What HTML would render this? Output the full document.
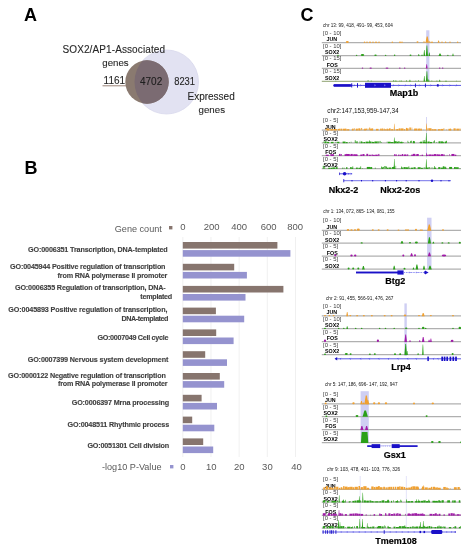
<!DOCTYPE html>
<html><head><meta charset="utf-8"><style>
html,body{margin:0;padding:0;background:#fff;width:470px;height:550px;overflow:hidden}
svg{display:block;filter:blur(0.45px)}
text{font-family:'Liberation Sans', Arial, sans-serif}
.lbl{font-size:18px;font-weight:bold;fill:#000}
.va{font-size:10px;fill:#262626;stroke:#262626;stroke-width:0.1px}
.ax{font-size:9.1px;fill:#595959}
.dg{font-size:9.5px}
.go{font-size:7.2px;font-weight:bold;fill:#404040;stroke:#404040;stroke-width:0.12px}
.hd{fill:#111}
.rg{font-size:5.9px;fill:#3c3c3c}
.tn{font-size:5.3px;font-weight:bold;fill:#000}
.gn{font-size:9px;font-weight:bold;fill:#000;stroke:#000;stroke-width:0.18px}
</style></head><body>
<svg width="470" height="550" viewBox="0 0 470 550">
<rect width="470" height="550" fill="#fff"/>
<text x="24" y="21" class="lbl">A</text>
<circle cx="166.5" cy="82" r="32" fill="#e2e2f2" stroke="#d8d8ec" stroke-width="0.8"/>
<circle cx="147" cy="82" r="21.7" fill="#8a7a70"/>
<clipPath id="cpL"><circle cx="166.5" cy="82" r="32"/></clipPath>
<circle cx="147" cy="82" r="21.7" fill="#7b6b72" clip-path="url(#cpL)"/>
<line x1="102.5" y1="85.8" x2="126" y2="85.8" stroke="#9a8378" stroke-width="1"/>
<text x="62.5" y="52.6" class="va" textLength="102.5" lengthAdjust="spacing">SOX2/AP1-Associated</text>
<text x="102.3" y="65.6" class="va" style="font-size:9.7px">genes</text>
<text x="103.6" y="84.3" class="va" style="font-size:10px">1161</text>
<text x="140.0" y="84.6" class="va" style="font-size:10px;fill:#1a1a1a">4702</text>
<text x="174.2" y="85.4" class="va" style="font-size:10px" textLength="20.8" lengthAdjust="spacingAndGlyphs">8231</text>
<text x="187.5" y="99.6" class="va">Expressed</text>
<text x="198.6" y="112.7" class="va" style="font-size:9.7px">genes</text>
<text x="24.4" y="173.9" class="lbl">B</text>
<line x1="210.97" y1="237" x2="210.97" y2="457" stroke="#ececec" stroke-width="0.8"/>
<line x1="239.15" y1="237" x2="239.15" y2="457" stroke="#ececec" stroke-width="0.8"/>
<line x1="267.32" y1="237" x2="267.32" y2="457" stroke="#ececec" stroke-width="0.8"/>
<line x1="295.50" y1="237" x2="295.50" y2="457" stroke="#ececec" stroke-width="0.8"/>
<line x1="182.8" y1="237" x2="182.8" y2="457" stroke="#ececec" stroke-width="0.8"/>
<text x="161.8" y="231.5" class="ax" text-anchor="end">Gene count</text>
<rect x="169.0" y="226.0" width="3.4" height="3.4" fill="#87756e"/>
<text x="182.9" y="230.0" class="ax dg" text-anchor="middle">0</text>
<text x="211.6" y="230.0" class="ax dg" text-anchor="middle">200</text>
<text x="239.2" y="230.0" class="ax dg" text-anchor="middle">400</text>
<text x="268.6" y="230.0" class="ax dg" text-anchor="middle">600</text>
<text x="295.1" y="230.0" class="ax dg" text-anchor="middle">800</text>
<text x="161.5" y="469.6" class="ax" text-anchor="end">-log10 P-Value</text>
<rect x="170" y="465" width="3.4" height="3.4" fill="#9593cf"/>
<text x="182.9" y="469.6" class="ax dg" text-anchor="middle">0</text>
<text x="211.3" y="469.6" class="ax dg" text-anchor="middle">10</text>
<text x="239.3" y="469.6" class="ax dg" text-anchor="middle">20</text>
<text x="267.4" y="469.6" class="ax dg" text-anchor="middle">30</text>
<text x="296.5" y="469.6" class="ax dg" text-anchor="middle">40</text>
<rect x="182.8" y="242.00" width="94.60" height="6.6" fill="#87756e"/>
<rect x="182.8" y="250.10" width="107.60" height="6.6" fill="#9593cf"/>
<rect x="182.8" y="263.80" width="51.40" height="6.6" fill="#87756e"/>
<rect x="182.8" y="271.90" width="64.10" height="6.6" fill="#9593cf"/>
<rect x="182.8" y="285.90" width="100.60" height="6.6" fill="#87756e"/>
<rect x="182.8" y="294.00" width="62.70" height="6.6" fill="#9593cf"/>
<rect x="182.8" y="307.60" width="33.10" height="6.6" fill="#87756e"/>
<rect x="182.8" y="315.70" width="61.40" height="6.6" fill="#9593cf"/>
<rect x="182.8" y="329.40" width="33.40" height="6.6" fill="#87756e"/>
<rect x="182.8" y="337.50" width="50.80" height="6.6" fill="#9593cf"/>
<rect x="182.8" y="351.20" width="22.40" height="6.6" fill="#87756e"/>
<rect x="182.8" y="359.30" width="44.20" height="6.6" fill="#9593cf"/>
<rect x="182.8" y="373.00" width="37.00" height="6.6" fill="#87756e"/>
<rect x="182.8" y="381.10" width="41.40" height="6.6" fill="#9593cf"/>
<rect x="182.8" y="394.80" width="18.80" height="6.6" fill="#87756e"/>
<rect x="182.8" y="402.90" width="34.20" height="6.6" fill="#9593cf"/>
<rect x="182.8" y="416.60" width="9.40" height="6.6" fill="#87756e"/>
<rect x="182.8" y="424.70" width="31.50" height="6.6" fill="#9593cf"/>
<rect x="182.8" y="438.40" width="20.40" height="6.6" fill="#87756e"/>
<rect x="182.8" y="446.50" width="30.40" height="6.6" fill="#9593cf"/>
<text x="28.10" y="252.10" class="go" textLength="139.60" lengthAdjust="spacing">GO:0006351 Transcription, DNA-templated</text>
<text x="10.10" y="269.20" class="go" textLength="155.40" lengthAdjust="spacing">GO:0045944 Positive regulation of transcription</text>
<text x="57.60" y="277.80" class="go" textLength="109.80" lengthAdjust="spacing">from RNA polymerase II promoter</text>
<text x="15.00" y="290.40" class="go" textLength="150.70" lengthAdjust="spacing">GO:0006355 Regulation of transcription, DNA-</text>
<text x="140.30" y="298.90" class="go" textLength="31.90" lengthAdjust="spacing">templated</text>
<text x="8.30" y="312.10" class="go" textLength="159.10" lengthAdjust="spacing">GO:0045893 Positive regulation of transcription,</text>
<text x="121.50" y="320.50" class="go" textLength="46.90" lengthAdjust="spacing">DNA-templated</text>
<text x="97.40" y="339.70" class="go" textLength="71.00" lengthAdjust="spacing">GO:0007049 Cell cycle</text>
<text x="27.70" y="361.50" class="go" textLength="140.70" lengthAdjust="spacing">GO:0007399 Nervous system development</text>
<text x="8.10" y="377.50" class="go" textLength="157.70" lengthAdjust="spacing">GO:0000122 Negative regulation of transcription</text>
<text x="57.90" y="386.00" class="go" textLength="109.70" lengthAdjust="spacing">from RNA polymerase II promoter</text>
<text x="71.70" y="404.70" class="go" textLength="97.50" lengthAdjust="spacing">GO:0006397 Mrna processing</text>
<text x="67.50" y="426.50" class="go" textLength="101.70" lengthAdjust="spacing">GO:0048511 Rhythmic process</text>
<text x="87.40" y="448.00" class="go" textLength="81.80" lengthAdjust="spacing">GO:0051301 Cell division</text>
<text x="300.6" y="21" class="lbl">C</text>
<text x="323" y="26.57" class="hd" style="font-size:4.65px" textLength="69.8" lengthAdjust="spacingAndGlyphs">chr 13: 99, 418, 491- 99, 453, 604</text><rect x="426.2" y="30.3" width="3.1999999999999886" height="51.7" fill="#b8b8ee" opacity="0.68"/><line x1="321.8" y1="42.5" x2="461.0" y2="42.5" stroke="#b0b0b0" stroke-width="1.25"/><text x="323" y="34.50" class="rg">[0 - 10]</text><text x="326.6" y="41.00" class="tn">JUN</text><ellipse cx="347.30" cy="41.95" rx="1.50" ry="0.95" fill="#f0a030"/><ellipse cx="364.50" cy="42.25" rx="0.75" ry="0.65" fill="#f0a030"/><ellipse cx="367.00" cy="42.25" rx="0.75" ry="0.65" fill="#f0a030"/><ellipse cx="370.00" cy="42.20" rx="1.00" ry="0.70" fill="#f0a030"/><ellipse cx="373.00" cy="42.25" rx="0.75" ry="0.65" fill="#f0a030"/><ellipse cx="376.00" cy="42.20" rx="1.00" ry="0.70" fill="#f0a030"/><ellipse cx="379.00" cy="42.25" rx="0.75" ry="0.65" fill="#f0a030"/><ellipse cx="392.30" cy="42.25" rx="0.75" ry="0.65" fill="#f0a030"/><ellipse cx="400.00" cy="42.20" rx="1.00" ry="0.70" fill="#f0a030"/><ellipse cx="402.00" cy="42.25" rx="0.75" ry="0.65" fill="#f0a030"/><ellipse cx="417.50" cy="42.10" rx="1.00" ry="0.80" fill="#f0a030"/><path d="M423.25,42.80 L423.79,41.10 L424.21,41.10 L424.75,42.80Z" fill="#f0a030"/><path d="M425.45,42.80 L426.70,36.50 L427.70,36.50 L428.95,42.80Z" fill="#f0a030"/><path d="M429.05,42.80 L429.59,41.00 L430.01,41.00 L430.55,42.80Z" fill="#f0a030"/><ellipse cx="432.00" cy="42.20" rx="1.00" ry="0.70" fill="#f0a030"/><path d="M437.60,42.80 L438.31,40.50 L438.89,40.50 L439.60,42.80Z" fill="#f0a030"/><ellipse cx="442.00" cy="42.20" rx="0.75" ry="0.70" fill="#f0a030"/><ellipse cx="445.60" cy="42.25" rx="0.75" ry="0.65" fill="#f0a030"/><ellipse cx="450.00" cy="42.20" rx="0.75" ry="0.70" fill="#f0a030"/><ellipse cx="457.60" cy="42.20" rx="0.75" ry="0.70" fill="#f0a030"/><line x1="321.8" y1="55.6" x2="461.0" y2="55.6" stroke="#b0b0b0" stroke-width="1.25"/><text x="323" y="47.60" class="rg">[0 - 10]</text><text x="325.0" y="54.10" class="tn">SOX2</text><ellipse cx="338.00" cy="55.40" rx="0.75" ry="0.60" fill="#2aa018"/><ellipse cx="356.60" cy="55.35" rx="0.75" ry="0.65" fill="#2aa018"/><ellipse cx="362.50" cy="55.00" rx="1.75" ry="1.00" fill="#2aa018"/><ellipse cx="375.50" cy="55.30" rx="1.25" ry="0.70" fill="#2aa018"/><ellipse cx="385.60" cy="55.35" rx="0.75" ry="0.65" fill="#2aa018"/><ellipse cx="394.60" cy="55.30" rx="0.75" ry="0.70" fill="#2aa018"/><ellipse cx="410.50" cy="55.30" rx="1.00" ry="0.70" fill="#2aa018"/><path d="M418.05,55.90 L418.59,54.10 L419.01,54.10 L419.55,55.90Z" fill="#2aa018"/><path d="M421.25,55.90 L421.79,54.40 L422.21,54.40 L422.75,55.90Z" fill="#2aa018"/><path d="M423.50,55.90 L424.07,50.10 L424.53,50.10 L425.10,55.90Z" fill="#2aa018"/><path d="M425.80,55.90 L426.59,45.60 L427.21,45.60 L428.00,55.90Z" fill="#2aa018"/><path d="M428.50,55.90 L429.07,52.60 L429.53,52.60 L430.10,55.90Z" fill="#2aa018"/><path d="M438.50,55.90 L439.57,53.60 L440.43,53.60 L441.50,55.90Z" fill="#2aa018"/><ellipse cx="447.90" cy="55.35" rx="0.75" ry="0.65" fill="#2aa018"/><path d="M452.25,55.90 L452.79,53.60 L453.21,53.60 L453.75,55.90Z" fill="#2aa018"/><line x1="321.8" y1="68.3" x2="461.0" y2="68.3" stroke="#b0b0b0" stroke-width="1.25"/><text x="323" y="60.30" class="rg">[0 - 15]</text><text x="326.8" y="66.80" class="tn">FOS</text><ellipse cx="362.50" cy="68.10" rx="0.75" ry="0.60" fill="#a01aa8"/><ellipse cx="370.70" cy="68.05" rx="1.25" ry="0.65" fill="#a01aa8"/><ellipse cx="387.00" cy="68.05" rx="1.50" ry="0.65" fill="#a01aa8"/><ellipse cx="399.80" cy="68.10" rx="0.75" ry="0.60" fill="#a01aa8"/><ellipse cx="404.70" cy="68.10" rx="0.75" ry="0.60" fill="#a01aa8"/><path d="M425.80,68.60 L426.44,64.30 L426.96,64.30 L427.60,68.60Z" fill="#a01aa8"/><ellipse cx="439.70" cy="68.10" rx="0.75" ry="0.60" fill="#a01aa8"/><ellipse cx="442.70" cy="68.10" rx="0.75" ry="0.60" fill="#a01aa8"/><line x1="321.8" y1="81.3" x2="461.0" y2="81.3" stroke="#a4b48c" stroke-width="1.25"/><text x="323" y="73.30" class="rg">[0 - 15]</text><text x="325.0" y="79.80" class="tn">SOX2</text><rect x="335.60" y="80.63" width="0.57" height="0.67" fill="#2aa018"/><rect x="367.60" y="80.32" width="0.98" height="0.98" fill="#2aa018"/><rect x="370.80" y="80.68" width="0.90" height="0.62" fill="#2aa018"/><rect x="393.20" y="80.33" width="0.78" height="0.97" fill="#2aa018"/><rect x="394.80" y="80.53" width="0.67" height="0.77" fill="#2aa018"/><rect x="395.60" y="80.70" width="1.00" height="0.60" fill="#2aa018"/><rect x="399.60" y="80.50" width="0.68" height="0.80" fill="#2aa018"/><rect x="401.20" y="80.60" width="0.75" height="0.70" fill="#2aa018"/><rect x="406.00" y="80.47" width="0.96" height="0.83" fill="#2aa018"/><rect x="415.60" y="80.56" width="0.54" height="0.74" fill="#2aa018"/><rect x="418.00" y="80.16" width="0.60" height="1.14" fill="#2aa018"/><rect x="428.40" y="80.69" width="0.68" height="0.61" fill="#2aa018"/><rect x="431.60" y="80.44" width="0.56" height="0.86" fill="#2aa018"/><rect x="436.40" y="80.64" width="0.93" height="0.66" fill="#2aa018"/><rect x="456.40" y="80.70" width="0.52" height="0.60" fill="#2aa018"/><path d="M409.15,81.60 L409.69,79.80 L410.11,79.80 L410.65,81.60Z" fill="#2aa018"/><path d="M423.60,81.60 L424.10,76.00 L424.50,76.00 L425.00,81.60Z" fill="#2aa018"/><path d="M425.90,81.60 L426.61,71.30 L427.19,71.30 L427.90,81.60Z" fill="#2aa018"/><path d="M428.20,81.60 L428.63,79.30 L428.97,79.30 L429.40,81.60Z" fill="#2aa018"/><path d="M438.95,81.60 L439.49,79.80 L439.91,79.80 L440.45,81.60Z" fill="#2aa018"/><path d="M445.25,81.60 L445.79,80.40 L446.21,80.40 L446.75,81.60Z" fill="#2aa018"/><line x1="333" y1="85.4" x2="461" y2="85.4" stroke="#3a36e0" stroke-width="0.85"/><rect x="333.70" y="84.10" width="17.20" height="2.70" fill="#1a10c8"/><rect x="351.15" y="83.40" width="1.10" height="4.00" fill="#1a10c8"/><rect x="357.00" y="83.20" width="1.00" height="4.40" fill="#1a10c8"/><path d="M353.96,84.50 L354.86,85.40 L353.96,86.30" stroke="#3a36e0" stroke-width="0.55" fill="none"/><path d="M360.46,84.50 L361.36,85.40 L360.46,86.30" stroke="#3a36e0" stroke-width="0.55" fill="none"/><rect x="365.00" y="82.80" width="26.00" height="5.00" fill="#1a10c8"/><path d="M374.3,84.8 L375.5,85.3 L374.3,85.8" stroke="#9a9af0" stroke-width="0.6" fill="none"/><path d="M384.1,84.8 L385.3,85.3 L384.1,85.8" stroke="#9a9af0" stroke-width="0.6" fill="none"/><path d="M393.06,84.50 L393.96,85.40 L393.06,86.30" stroke="#3a36e0" stroke-width="0.55" fill="none"/><path d="M398.66,84.50 L399.56,85.40 L398.66,86.30" stroke="#3a36e0" stroke-width="0.55" fill="none"/><path d="M405.06,84.50 L405.96,85.40 L405.06,86.30" stroke="#3a36e0" stroke-width="0.55" fill="none"/><path d="M410.56,84.50 L411.46,85.40 L410.56,86.30" stroke="#3a36e0" stroke-width="0.55" fill="none"/><path d="M419.36,84.50 L420.26,85.40 L419.36,86.30" stroke="#3a36e0" stroke-width="0.55" fill="none"/><path d="M430.56,84.50 L431.46,85.40 L430.56,86.30" stroke="#3a36e0" stroke-width="0.55" fill="none"/><path d="M442.46,84.50 L443.36,85.40 L442.46,86.30" stroke="#3a36e0" stroke-width="0.55" fill="none"/><path d="M449.66,84.50 L450.56,85.40 L449.66,86.30" stroke="#3a36e0" stroke-width="0.55" fill="none"/><path d="M456.06,84.50 L456.96,85.40 L456.06,86.30" stroke="#3a36e0" stroke-width="0.55" fill="none"/><rect x="414.95" y="83.50" width="0.90" height="3.80" fill="#1a10c8"/><rect x="424.95" y="83.50" width="0.90" height="3.80" fill="#1a10c8"/><rect x="436.90" y="84.20" width="1.80" height="2.40" fill="#1a10c8"/><text x="389.8" y="96.2" class="gn">Map1b</text>
<clipPath id="hc2"><rect x="300" y="0" width="98.30000000000001" height="550"/></clipPath><text x="327.3" y="113.30" class="hd" style="font-size:6.4px" clip-path="url(#hc2)">chr2:147,153,959-147,34</text><rect x="426.0" y="117" width="0.8000000000000114" height="40.5" fill="#b8b8ee" opacity="0.72"/><line x1="321.8" y1="130.2" x2="461.0" y2="130.2" stroke="#b0b0b0" stroke-width="1.25"/><text x="323" y="122.20" class="rg">[0 - 5]</text><text x="325.1" y="128.70" class="tn">JUN</text><rect x="326.48" y="128.65" width="3.09" height="1.85" fill="#f0a030"/><rect x="330.27" y="129.17" width="3.02" height="1.33" fill="#f0a030"/><rect x="333.61" y="129.00" width="3.29" height="1.50" fill="#f0a030"/><rect x="337.62" y="129.01" width="2.09" height="1.49" fill="#f0a030"/><rect x="340.41" y="128.66" width="1.84" height="1.84" fill="#f0a030"/><rect x="342.87" y="128.72" width="2.18" height="1.78" fill="#f0a030"/><rect x="345.08" y="128.58" width="1.31" height="1.92" fill="#f0a030"/><rect x="346.61" y="129.23" width="2.62" height="1.27" fill="#f0a030"/><rect x="352.06" y="128.64" width="1.62" height="1.86" fill="#f0a030"/><rect x="355.78" y="128.64" width="2.08" height="1.86" fill="#f0a030"/><rect x="358.29" y="128.32" width="2.05" height="2.18" fill="#f0a030"/><rect x="364.08" y="128.68" width="1.86" height="1.82" fill="#f0a030"/><rect x="370.39" y="128.54" width="2.53" height="1.96" fill="#f0a030"/><rect x="375.97" y="128.85" width="2.57" height="1.65" fill="#f0a030"/><rect x="380.13" y="128.62" width="1.67" height="1.88" fill="#f0a030"/><rect x="382.03" y="129.11" width="1.20" height="1.39" fill="#f0a030"/><rect x="383.61" y="128.61" width="1.13" height="1.89" fill="#f0a030"/><rect x="385.15" y="129.22" width="1.40" height="1.28" fill="#f0a030"/><rect x="386.75" y="129.14" width="1.95" height="1.36" fill="#f0a030"/><rect x="388.88" y="128.37" width="1.76" height="2.13" fill="#f0a030"/><rect x="391.14" y="129.15" width="2.09" height="1.35" fill="#f0a030"/><rect x="396.41" y="129.03" width="1.75" height="1.47" fill="#f0a030"/><rect x="398.68" y="128.38" width="1.32" height="2.12" fill="#f0a030"/><rect x="400.29" y="128.42" width="3.23" height="2.08" fill="#f0a030"/><rect x="403.88" y="129.12" width="1.32" height="1.38" fill="#f0a030"/><rect x="405.90" y="128.33" width="2.64" height="2.17" fill="#f0a030"/><rect x="414.16" y="128.52" width="3.26" height="1.98" fill="#f0a030"/><rect x="417.89" y="128.71" width="1.99" height="1.79" fill="#f0a030"/><rect x="420.16" y="128.63" width="1.72" height="1.87" fill="#f0a030"/><rect x="428.72" y="128.25" width="2.80" height="2.25" fill="#f0a030"/><rect x="431.78" y="129.21" width="1.55" height="1.29" fill="#f0a030"/><rect x="433.40" y="129.23" width="2.90" height="1.27" fill="#f0a030"/><rect x="437.91" y="129.20" width="2.60" height="1.30" fill="#f0a030"/><rect x="440.68" y="128.92" width="2.26" height="1.58" fill="#f0a030"/><rect x="448.41" y="128.81" width="2.78" height="1.69" fill="#f0a030"/><rect x="453.50" y="128.35" width="2.17" height="2.15" fill="#f0a030"/><rect x="456.43" y="128.64" width="2.48" height="1.86" fill="#f0a030"/><rect x="459.45" y="128.52" width="1.05" height="1.98" fill="#f0a030"/><rect x="325.20" y="129.03" width="0.65" height="1.17" fill="#f0a030"/><rect x="326.80" y="127.80" width="0.56" height="2.40" fill="#f0a030"/><rect x="330.80" y="129.43" width="1.00" height="0.77" fill="#f0a030"/><rect x="332.40" y="129.45" width="0.55" height="0.75" fill="#f0a030"/><rect x="334.00" y="129.60" width="0.52" height="0.60" fill="#f0a030"/><rect x="338.80" y="128.51" width="0.75" height="1.69" fill="#f0a030"/><rect x="344.40" y="129.52" width="0.64" height="0.68" fill="#f0a030"/><rect x="345.20" y="129.25" width="0.53" height="0.95" fill="#f0a030"/><rect x="348.40" y="129.50" width="0.95" height="0.70" fill="#f0a030"/><rect x="351.60" y="129.42" width="0.72" height="0.78" fill="#f0a030"/><rect x="354.00" y="128.15" width="0.59" height="2.05" fill="#f0a030"/><rect x="356.40" y="129.35" width="0.69" height="0.85" fill="#f0a030"/><rect x="359.60" y="129.59" width="0.80" height="0.61" fill="#f0a030"/><rect x="361.20" y="127.96" width="0.94" height="2.24" fill="#f0a030"/><rect x="362.80" y="129.52" width="0.92" height="0.68" fill="#f0a030"/><rect x="366.00" y="128.57" width="0.92" height="1.63" fill="#f0a030"/><rect x="367.60" y="128.51" width="0.78" height="1.69" fill="#f0a030"/><rect x="369.20" y="127.56" width="0.98" height="2.64" fill="#f0a030"/><rect x="370.00" y="128.93" width="0.77" height="1.27" fill="#f0a030"/><rect x="372.40" y="128.43" width="0.76" height="1.77" fill="#f0a030"/><rect x="382.00" y="127.95" width="0.51" height="2.25" fill="#f0a030"/><rect x="384.40" y="129.48" width="0.54" height="0.72" fill="#f0a030"/><rect x="386.80" y="128.34" width="0.69" height="1.86" fill="#f0a030"/><rect x="395.60" y="129.52" width="0.81" height="0.68" fill="#f0a030"/><rect x="396.40" y="129.60" width="0.68" height="0.60" fill="#f0a030"/><rect x="398.00" y="129.41" width="0.56" height="0.79" fill="#f0a030"/><rect x="406.00" y="127.88" width="0.93" height="2.32" fill="#f0a030"/><rect x="406.80" y="129.58" width="0.75" height="0.62" fill="#f0a030"/><rect x="409.20" y="127.47" width="0.67" height="2.73" fill="#f0a030"/><rect x="410.00" y="127.49" width="0.88" height="2.71" fill="#f0a030"/><rect x="411.60" y="127.55" width="0.65" height="2.65" fill="#f0a030"/><rect x="414.00" y="129.60" width="0.81" height="0.60" fill="#f0a030"/><rect x="418.80" y="128.47" width="0.72" height="1.73" fill="#f0a030"/><rect x="423.60" y="129.60" width="0.51" height="0.60" fill="#f0a030"/><rect x="427.60" y="128.13" width="0.94" height="2.07" fill="#f0a030"/><rect x="430.00" y="129.26" width="0.51" height="0.94" fill="#f0a030"/><rect x="435.60" y="129.38" width="0.55" height="0.82" fill="#f0a030"/><rect x="438.00" y="129.60" width="0.56" height="0.60" fill="#f0a030"/><rect x="442.00" y="129.46" width="0.69" height="0.74" fill="#f0a030"/><rect x="442.80" y="129.00" width="0.56" height="1.20" fill="#f0a030"/><rect x="443.60" y="128.05" width="0.63" height="2.15" fill="#f0a030"/><rect x="446.00" y="129.60" width="0.93" height="0.60" fill="#f0a030"/><rect x="449.20" y="129.55" width="0.76" height="0.65" fill="#f0a030"/><rect x="450.00" y="128.75" width="1.00" height="1.45" fill="#f0a030"/><rect x="451.60" y="129.47" width="0.52" height="0.73" fill="#f0a030"/><path d="M393.70,130.50 L394.13,123.70 L394.47,123.70 L394.90,130.50Z" fill="#f0a030"/><path d="M426.00,130.50 L426.43,123.50 L426.77,123.50 L427.20,130.50Z" fill="#f0a030"/><line x1="321.8" y1="142.9" x2="461.0" y2="142.9" stroke="#b0b0b0" stroke-width="1.25"/><text x="323" y="134.90" class="rg">[0 - 5]</text><text x="323.5" y="141.40" class="tn">SOX2</text><rect x="324.57" y="141.30" width="1.96" height="1.90" fill="#2aa018"/><rect x="327.10" y="141.87" width="2.02" height="1.33" fill="#2aa018"/><rect x="330.92" y="141.88" width="2.59" height="1.32" fill="#2aa018"/><rect x="337.14" y="141.78" width="2.23" height="1.42" fill="#2aa018"/><rect x="342.61" y="141.55" width="2.86" height="1.65" fill="#2aa018"/><rect x="345.70" y="142.08" width="1.97" height="1.12" fill="#2aa018"/><rect x="356.40" y="141.26" width="1.24" height="1.94" fill="#2aa018"/><rect x="360.92" y="141.72" width="1.73" height="1.48" fill="#2aa018"/><rect x="363.34" y="142.02" width="1.77" height="1.18" fill="#2aa018"/><rect x="365.62" y="141.61" width="2.99" height="1.59" fill="#2aa018"/><rect x="368.99" y="141.49" width="2.50" height="1.71" fill="#2aa018"/><rect x="371.88" y="141.94" width="2.25" height="1.26" fill="#2aa018"/><rect x="374.36" y="141.50" width="2.85" height="1.70" fill="#2aa018"/><rect x="377.43" y="141.27" width="1.21" height="1.93" fill="#2aa018"/><rect x="387.88" y="141.73" width="2.77" height="1.47" fill="#2aa018"/><rect x="390.82" y="142.05" width="2.75" height="1.15" fill="#2aa018"/><rect x="394.14" y="141.25" width="2.55" height="1.95" fill="#2aa018"/><rect x="396.72" y="141.68" width="1.52" height="1.52" fill="#2aa018"/><rect x="398.36" y="141.18" width="1.14" height="2.02" fill="#2aa018"/><rect x="400.18" y="141.86" width="2.49" height="1.34" fill="#2aa018"/><rect x="412.84" y="141.32" width="2.07" height="1.88" fill="#2aa018"/><rect x="420.08" y="141.70" width="2.17" height="1.50" fill="#2aa018"/><rect x="422.92" y="142.02" width="2.81" height="1.18" fill="#2aa018"/><rect x="425.80" y="141.97" width="1.05" height="1.23" fill="#2aa018"/><rect x="427.46" y="141.56" width="2.31" height="1.64" fill="#2aa018"/><rect x="429.99" y="141.95" width="1.99" height="1.25" fill="#2aa018"/><rect x="438.51" y="141.33" width="1.93" height="1.87" fill="#2aa018"/><rect x="440.56" y="141.40" width="2.42" height="1.80" fill="#2aa018"/><rect x="443.20" y="141.80" width="1.08" height="1.40" fill="#2aa018"/><rect x="444.92" y="141.55" width="1.59" height="1.65" fill="#2aa018"/><rect x="323.60" y="141.39" width="0.72" height="1.51" fill="#2aa018"/><rect x="327.60" y="141.89" width="0.62" height="1.01" fill="#2aa018"/><rect x="335.60" y="141.79" width="0.75" height="1.11" fill="#2aa018"/><rect x="349.20" y="142.08" width="0.66" height="0.82" fill="#2aa018"/><rect x="350.80" y="141.63" width="0.54" height="1.27" fill="#2aa018"/><rect x="354.80" y="140.29" width="0.85" height="2.61" fill="#2aa018"/><rect x="355.60" y="142.05" width="0.82" height="0.85" fill="#2aa018"/><rect x="361.20" y="141.28" width="0.60" height="1.62" fill="#2aa018"/><rect x="368.40" y="141.97" width="0.64" height="0.93" fill="#2aa018"/><rect x="369.20" y="140.27" width="0.52" height="2.63" fill="#2aa018"/><rect x="372.40" y="141.75" width="0.52" height="1.15" fill="#2aa018"/><rect x="375.60" y="141.65" width="0.55" height="1.25" fill="#2aa018"/><rect x="379.60" y="140.92" width="0.91" height="1.98" fill="#2aa018"/><rect x="381.20" y="142.22" width="0.70" height="0.68" fill="#2aa018"/><rect x="386.80" y="141.55" width="0.54" height="1.35" fill="#2aa018"/><rect x="390.00" y="142.29" width="0.91" height="0.61" fill="#2aa018"/><rect x="398.80" y="142.29" width="0.76" height="0.61" fill="#2aa018"/><rect x="400.40" y="142.14" width="0.53" height="0.76" fill="#2aa018"/><rect x="401.20" y="141.76" width="0.84" height="1.14" fill="#2aa018"/><rect x="402.80" y="142.28" width="0.97" height="0.62" fill="#2aa018"/><rect x="407.60" y="140.79" width="0.61" height="2.11" fill="#2aa018"/><rect x="408.40" y="142.03" width="0.77" height="0.87" fill="#2aa018"/><rect x="410.00" y="141.19" width="0.75" height="1.71" fill="#2aa018"/><rect x="410.80" y="140.71" width="0.90" height="2.19" fill="#2aa018"/><rect x="413.20" y="140.97" width="0.95" height="1.93" fill="#2aa018"/><rect x="419.60" y="142.03" width="0.81" height="0.87" fill="#2aa018"/><rect x="422.80" y="140.39" width="0.77" height="2.51" fill="#2aa018"/><rect x="424.40" y="140.11" width="0.78" height="2.79" fill="#2aa018"/><rect x="428.40" y="141.94" width="0.59" height="0.96" fill="#2aa018"/><rect x="431.60" y="142.30" width="0.71" height="0.60" fill="#2aa018"/><rect x="433.20" y="141.33" width="0.61" height="1.57" fill="#2aa018"/><rect x="434.00" y="140.41" width="0.76" height="2.49" fill="#2aa018"/><rect x="436.40" y="142.17" width="0.71" height="0.73" fill="#2aa018"/><rect x="446.00" y="140.81" width="0.79" height="2.09" fill="#2aa018"/><path d="M393.70,143.20 L394.13,137.40 L394.47,137.40 L394.90,143.20Z" fill="#2aa018"/><path d="M425.65,143.20 L426.11,132.90 L426.49,132.90 L426.95,143.20Z" fill="#2aa018"/><path d="M359.50,143.20 L359.86,140.70 L360.14,140.70 L360.50,143.20Z" fill="#2aa018"/><line x1="321.8" y1="155.7" x2="461.0" y2="155.7" stroke="#b0b0b0" stroke-width="1.25"/><text x="323" y="147.70" class="rg">[0 - 5]</text><text x="325.3" y="154.20" class="tn">FOS</text><rect x="325.73" y="154.72" width="3.00" height="1.28" fill="#a01aa8"/><rect x="331.04" y="154.19" width="2.92" height="1.81" fill="#a01aa8"/><rect x="338.99" y="153.91" width="1.62" height="2.09" fill="#a01aa8"/><rect x="344.57" y="154.17" width="2.13" height="1.83" fill="#a01aa8"/><rect x="346.88" y="153.99" width="2.91" height="2.01" fill="#a01aa8"/><rect x="350.46" y="153.94" width="2.30" height="2.06" fill="#a01aa8"/><rect x="353.23" y="154.26" width="1.37" height="1.74" fill="#a01aa8"/><rect x="354.62" y="154.28" width="2.85" height="1.72" fill="#a01aa8"/><rect x="360.30" y="154.53" width="1.75" height="1.47" fill="#a01aa8"/><rect x="362.46" y="154.11" width="2.09" height="1.89" fill="#a01aa8"/><rect x="366.34" y="153.82" width="1.86" height="2.18" fill="#a01aa8"/><rect x="368.87" y="154.75" width="2.02" height="1.25" fill="#a01aa8"/><rect x="371.52" y="154.47" width="1.34" height="1.53" fill="#a01aa8"/><rect x="373.09" y="154.82" width="1.71" height="1.18" fill="#a01aa8"/><rect x="375.18" y="154.63" width="2.59" height="1.37" fill="#a01aa8"/><rect x="378.26" y="153.93" width="1.10" height="2.07" fill="#a01aa8"/><rect x="394.15" y="154.15" width="1.04" height="1.85" fill="#a01aa8"/><rect x="395.43" y="154.37" width="1.34" height="1.63" fill="#a01aa8"/><rect x="398.29" y="154.57" width="1.24" height="1.43" fill="#a01aa8"/><rect x="400.13" y="154.75" width="1.36" height="1.25" fill="#a01aa8"/><rect x="401.82" y="154.04" width="1.42" height="1.96" fill="#a01aa8"/><rect x="403.89" y="154.44" width="2.67" height="1.56" fill="#a01aa8"/><rect x="407.15" y="154.31" width="1.07" height="1.69" fill="#a01aa8"/><rect x="411.31" y="154.56" width="1.50" height="1.44" fill="#a01aa8"/><rect x="412.85" y="153.86" width="2.33" height="2.14" fill="#a01aa8"/><rect x="415.64" y="154.18" width="1.11" height="1.82" fill="#a01aa8"/><rect x="416.78" y="154.00" width="1.97" height="2.00" fill="#a01aa8"/><rect x="421.61" y="154.70" width="1.47" height="1.30" fill="#a01aa8"/><rect x="426.05" y="154.66" width="1.76" height="1.34" fill="#a01aa8"/><rect x="428.37" y="154.45" width="2.79" height="1.55" fill="#a01aa8"/><rect x="431.75" y="154.55" width="2.03" height="1.45" fill="#a01aa8"/><rect x="433.89" y="154.08" width="2.68" height="1.92" fill="#a01aa8"/><rect x="437.14" y="154.41" width="2.95" height="1.59" fill="#a01aa8"/><rect x="440.70" y="154.13" width="2.52" height="1.87" fill="#a01aa8"/><rect x="443.36" y="154.43" width="1.32" height="1.57" fill="#a01aa8"/><rect x="451.59" y="153.96" width="2.90" height="2.04" fill="#a01aa8"/><rect x="455.07" y="154.66" width="1.20" height="1.34" fill="#a01aa8"/><rect x="330.00" y="154.07" width="0.65" height="1.63" fill="#a01aa8"/><rect x="330.80" y="154.98" width="0.55" height="0.72" fill="#a01aa8"/><rect x="341.20" y="154.02" width="0.76" height="1.68" fill="#a01aa8"/><rect x="346.00" y="153.91" width="0.91" height="1.79" fill="#a01aa8"/><rect x="350.00" y="154.96" width="0.69" height="0.74" fill="#a01aa8"/><rect x="354.00" y="154.53" width="0.90" height="1.17" fill="#a01aa8"/><rect x="357.20" y="155.09" width="0.58" height="0.61" fill="#a01aa8"/><rect x="362.80" y="154.08" width="0.79" height="1.62" fill="#a01aa8"/><rect x="398.00" y="154.87" width="0.90" height="0.83" fill="#a01aa8"/><rect x="405.20" y="154.80" width="0.63" height="0.90" fill="#a01aa8"/><rect x="411.60" y="155.08" width="0.53" height="0.62" fill="#a01aa8"/><rect x="420.40" y="154.96" width="0.78" height="0.74" fill="#a01aa8"/><rect x="430.80" y="154.64" width="0.93" height="1.06" fill="#a01aa8"/><rect x="437.20" y="154.30" width="0.66" height="1.40" fill="#a01aa8"/><rect x="440.40" y="155.08" width="0.63" height="0.62" fill="#a01aa8"/><rect x="446.80" y="154.84" width="0.61" height="0.86" fill="#a01aa8"/><rect x="449.20" y="154.13" width="0.64" height="1.57" fill="#a01aa8"/><rect x="451.60" y="154.13" width="0.90" height="1.57" fill="#a01aa8"/><rect x="454.80" y="155.07" width="0.66" height="0.63" fill="#a01aa8"/><path d="M426.00,156.00 L426.43,152.70 L426.77,152.70 L427.20,156.00Z" fill="#a01aa8"/><line x1="321.8" y1="168.6" x2="461.0" y2="168.6" stroke="#b0b0b0" stroke-width="1.25"/><text x="323" y="160.60" class="rg">[0 - 5]</text><text x="323.5" y="167.10" class="tn">SOX2</text><rect x="328.23" y="167.70" width="2.27" height="1.20" fill="#2aa018"/><rect x="330.84" y="167.86" width="1.59" height="1.04" fill="#2aa018"/><rect x="332.49" y="167.39" width="2.66" height="1.51" fill="#2aa018"/><rect x="335.72" y="167.13" width="1.89" height="1.77" fill="#2aa018"/><rect x="346.14" y="167.19" width="1.29" height="1.71" fill="#2aa018"/><rect x="350.11" y="167.10" width="1.49" height="1.80" fill="#2aa018"/><rect x="351.75" y="167.84" width="1.35" height="1.06" fill="#2aa018"/><rect x="355.93" y="167.59" width="1.91" height="1.31" fill="#2aa018"/><rect x="358.44" y="167.78" width="2.31" height="1.12" fill="#2aa018"/><rect x="366.95" y="166.94" width="3.18" height="1.96" fill="#2aa018"/><rect x="370.17" y="167.10" width="2.02" height="1.80" fill="#2aa018"/><rect x="381.70" y="167.43" width="1.53" height="1.47" fill="#2aa018"/><rect x="386.70" y="167.72" width="1.33" height="1.18" fill="#2aa018"/><rect x="388.45" y="167.48" width="2.89" height="1.42" fill="#2aa018"/><rect x="392.03" y="167.02" width="2.08" height="1.88" fill="#2aa018"/><rect x="401.24" y="167.49" width="1.62" height="1.41" fill="#2aa018"/><rect x="403.46" y="167.09" width="2.33" height="1.81" fill="#2aa018"/><rect x="405.87" y="167.34" width="2.49" height="1.56" fill="#2aa018"/><rect x="410.70" y="167.65" width="2.34" height="1.25" fill="#2aa018"/><rect x="413.47" y="167.19" width="2.14" height="1.71" fill="#2aa018"/><rect x="417.65" y="167.23" width="3.01" height="1.67" fill="#2aa018"/><rect x="420.79" y="167.80" width="2.09" height="1.10" fill="#2aa018"/><rect x="425.99" y="167.59" width="2.32" height="1.31" fill="#2aa018"/><rect x="433.67" y="167.57" width="2.43" height="1.33" fill="#2aa018"/><rect x="438.40" y="167.10" width="1.95" height="1.80" fill="#2aa018"/><rect x="440.72" y="167.61" width="2.32" height="1.29" fill="#2aa018"/><rect x="443.11" y="167.06" width="1.58" height="1.84" fill="#2aa018"/><rect x="445.07" y="167.76" width="1.34" height="1.14" fill="#2aa018"/><rect x="449.13" y="166.94" width="2.97" height="1.96" fill="#2aa018"/><rect x="453.99" y="167.08" width="1.90" height="1.82" fill="#2aa018"/><rect x="455.96" y="167.23" width="2.72" height="1.67" fill="#2aa018"/><rect x="322.80" y="165.81" width="0.96" height="2.79" fill="#2aa018"/><rect x="323.60" y="168.00" width="0.81" height="0.60" fill="#2aa018"/><rect x="324.40" y="166.77" width="0.73" height="1.83" fill="#2aa018"/><rect x="330.80" y="167.98" width="0.93" height="0.62" fill="#2aa018"/><rect x="331.60" y="167.58" width="0.66" height="1.02" fill="#2aa018"/><rect x="342.00" y="167.67" width="0.89" height="0.93" fill="#2aa018"/><rect x="343.60" y="167.64" width="0.86" height="0.96" fill="#2aa018"/><rect x="346.00" y="167.62" width="0.53" height="0.98" fill="#2aa018"/><rect x="350.80" y="167.77" width="0.84" height="0.83" fill="#2aa018"/><rect x="352.40" y="166.45" width="0.79" height="2.15" fill="#2aa018"/><rect x="360.40" y="166.38" width="0.70" height="2.22" fill="#2aa018"/><rect x="362.00" y="168.00" width="0.70" height="0.60" fill="#2aa018"/><rect x="366.80" y="167.17" width="0.53" height="1.43" fill="#2aa018"/><rect x="370.00" y="167.99" width="0.74" height="0.61" fill="#2aa018"/><rect x="370.80" y="167.05" width="0.65" height="1.55" fill="#2aa018"/><rect x="374.80" y="167.72" width="0.99" height="0.88" fill="#2aa018"/><rect x="381.20" y="166.56" width="0.78" height="2.04" fill="#2aa018"/><rect x="382.80" y="166.91" width="0.97" height="1.69" fill="#2aa018"/><rect x="384.40" y="166.05" width="0.98" height="2.55" fill="#2aa018"/><rect x="385.20" y="166.43" width="0.54" height="2.17" fill="#2aa018"/><rect x="386.00" y="166.54" width="0.86" height="2.06" fill="#2aa018"/><rect x="393.20" y="166.76" width="0.87" height="1.84" fill="#2aa018"/><rect x="394.00" y="166.45" width="0.59" height="2.15" fill="#2aa018"/><rect x="394.80" y="167.99" width="0.83" height="0.61" fill="#2aa018"/><rect x="395.60" y="165.81" width="0.50" height="2.79" fill="#2aa018"/><rect x="401.20" y="166.54" width="0.68" height="2.06" fill="#2aa018"/><rect x="406.00" y="167.76" width="0.84" height="0.84" fill="#2aa018"/><rect x="408.40" y="166.51" width="0.90" height="2.09" fill="#2aa018"/><rect x="409.20" y="167.96" width="0.79" height="0.64" fill="#2aa018"/><rect x="423.60" y="167.41" width="0.68" height="1.19" fill="#2aa018"/><rect x="424.40" y="167.42" width="0.99" height="1.18" fill="#2aa018"/><rect x="426.00" y="167.86" width="0.68" height="0.74" fill="#2aa018"/><rect x="428.40" y="167.30" width="0.62" height="1.30" fill="#2aa018"/><rect x="429.20" y="167.19" width="1.00" height="1.41" fill="#2aa018"/><rect x="431.60" y="167.27" width="0.82" height="1.33" fill="#2aa018"/><rect x="434.00" y="166.02" width="0.63" height="2.58" fill="#2aa018"/><rect x="438.00" y="167.58" width="0.74" height="1.02" fill="#2aa018"/><rect x="442.80" y="166.22" width="0.97" height="2.38" fill="#2aa018"/><rect x="443.60" y="166.31" width="0.89" height="2.29" fill="#2aa018"/><rect x="445.20" y="166.76" width="0.89" height="1.84" fill="#2aa018"/><rect x="450.00" y="167.80" width="0.76" height="0.80" fill="#2aa018"/><rect x="459.60" y="168.00" width="0.67" height="0.60" fill="#2aa018"/><path d="M393.70,168.90 L394.13,159.10 L394.47,159.10 L394.90,168.90Z" fill="#2aa018"/><path d="M425.65,168.90 L426.11,159.20 L426.49,159.20 L426.95,168.90Z" fill="#2aa018"/><line x1="339.5" y1="173.8" x2="352.2" y2="173.8" stroke="#3a36e0" stroke-width="0.85"/><rect x="339.25" y="172.50" width="0.70" height="2.60" fill="#1a10c8"/><circle cx="344.6" cy="173.8" r="1.8" fill="#1a10c8"/><path d="M347.96,172.90 L348.86,173.80 L347.96,174.70" stroke="#3a36e0" stroke-width="0.55" fill="none"/><path d="M350.76,172.90 L351.66,173.80 L350.76,174.70" stroke="#3a36e0" stroke-width="0.55" fill="none"/><line x1="343.7" y1="180.7" x2="451" y2="180.7" stroke="#3a36e0" stroke-width="0.7"/><rect x="343.40" y="179.10" width="0.80" height="3.20" fill="#1a10c8"/><circle cx="432" cy="180.7" r="1.2" fill="#1a10c8"/><rect x="351.50" y="180.0" width="1.0" height="1.4" fill="#1a10c8"/><rect x="361.00" y="180.0" width="1.0" height="1.4" fill="#1a10c8"/><rect x="372.20" y="180.0" width="1.0" height="1.4" fill="#1a10c8"/><rect x="384.90" y="180.0" width="1.0" height="1.4" fill="#1a10c8"/><rect x="396.10" y="180.0" width="1.0" height="1.4" fill="#1a10c8"/><rect x="405.70" y="180.0" width="1.0" height="1.4" fill="#1a10c8"/><rect x="418.50" y="180.0" width="1.0" height="1.4" fill="#1a10c8"/><rect x="440.50" y="180.0" width="1.0" height="1.4" fill="#1a10c8"/><rect x="448.50" y="180.0" width="1.0" height="1.4" fill="#1a10c8"/><text x="328.8" y="193" class="gn">Nkx2-2</text><text x="380.3" y="193" class="gn">Nkx2-2os</text>
<text x="323.2" y="212.97" class="hd" style="font-size:4.65px" textLength="71.4" lengthAdjust="spacingAndGlyphs">chr 1: 134, 072, 865- 134, 081, 155</text><rect x="427.1" y="217.7" width="4.399999999999977" height="51.900000000000034" fill="#b8b8ee" opacity="0.68"/><line x1="321.8" y1="230.4" x2="461.0" y2="230.4" stroke="#b0b0b0" stroke-width="1.25"/><text x="323" y="222.40" class="rg">[0 - 10]</text><text x="326.6" y="228.90" class="tn">JUN</text><ellipse cx="348.00" cy="229.95" rx="1.25" ry="0.85" fill="#f0a030"/><ellipse cx="351.50" cy="230.00" rx="1.25" ry="0.80" fill="#f0a030"/><ellipse cx="355.00" cy="230.00" rx="1.25" ry="0.80" fill="#f0a030"/><ellipse cx="358.30" cy="229.70" rx="1.50" ry="1.10" fill="#f0a030"/><ellipse cx="372.80" cy="230.05" rx="1.00" ry="0.75" fill="#f0a030"/><ellipse cx="378.70" cy="230.05" rx="1.00" ry="0.75" fill="#f0a030"/><ellipse cx="387.70" cy="230.05" rx="1.00" ry="0.75" fill="#f0a030"/><ellipse cx="398.50" cy="230.10" rx="1.00" ry="0.70" fill="#f0a030"/><ellipse cx="406.00" cy="230.05" rx="1.00" ry="0.75" fill="#f0a030"/><ellipse cx="408.00" cy="230.05" rx="1.00" ry="0.75" fill="#f0a030"/><ellipse cx="416.00" cy="229.80" rx="1.00" ry="1.00" fill="#f0a030"/><ellipse cx="420.60" cy="230.10" rx="1.00" ry="0.70" fill="#f0a030"/><ellipse cx="422.00" cy="230.10" rx="1.00" ry="0.70" fill="#f0a030"/><path d="M427.30,230.70 L428.73,224.40 L429.87,224.40 L431.30,230.70Z" fill="#f0a030"/><ellipse cx="443.00" cy="230.05" rx="1.00" ry="0.75" fill="#f0a030"/><line x1="321.8" y1="243.2" x2="461.0" y2="243.2" stroke="#b0b0b0" stroke-width="1.25"/><text x="323" y="235.20" class="rg">[0 - 10]</text><text x="325.0" y="241.70" class="tn">SOX2</text><ellipse cx="361.70" cy="242.90" rx="1.10" ry="0.70" fill="#2aa018"/><path d="M400.50,243.50 L401.57,241.00 L402.43,241.00 L403.50,243.50Z" fill="#2aa018"/><ellipse cx="410.00" cy="242.85" rx="1.00" ry="0.75" fill="#2aa018"/><ellipse cx="416.40" cy="242.50" rx="1.50" ry="1.10" fill="#2aa018"/><path d="M427.80,243.50 L428.94,237.20 L429.86,237.20 L431.00,243.50Z" fill="#2aa018"/><path d="M432.40,243.50 L433.11,241.80 L433.69,241.80 L434.40,243.50Z" fill="#2aa018"/><ellipse cx="442.40" cy="242.90" rx="1.00" ry="0.70" fill="#2aa018"/><ellipse cx="448.70" cy="242.90" rx="1.00" ry="0.70" fill="#2aa018"/><ellipse cx="459.80" cy="242.70" rx="1.00" ry="0.90" fill="#2aa018"/><line x1="321.8" y1="256.0" x2="461.0" y2="256.0" stroke="#b0b0b0" stroke-width="1.25"/><text x="323" y="248.00" class="rg">[0 - 5]</text><text x="326.8" y="254.50" class="tn">FOS</text><ellipse cx="335.30" cy="255.30" rx="1.10" ry="1.10" fill="#a01aa8"/><ellipse cx="351.50" cy="255.40" rx="1.20" ry="1.00" fill="#a01aa8"/><ellipse cx="355.20" cy="255.40" rx="1.20" ry="1.00" fill="#a01aa8"/><ellipse cx="403.30" cy="255.45" rx="1.00" ry="0.95" fill="#a01aa8"/><path d="M410.10,256.30 L411.17,253.20 L412.03,253.20 L413.10,256.30Z" fill="#a01aa8"/><ellipse cx="415.00" cy="255.30" rx="1.00" ry="1.10" fill="#a01aa8"/><path d="M427.80,256.30 L428.94,252.50 L429.86,252.50 L431.00,256.30Z" fill="#a01aa8"/><ellipse cx="444.00" cy="255.40" rx="2.25" ry="1.00" fill="#a01aa8"/><line x1="321.8" y1="269.2" x2="461.0" y2="269.2" stroke="#b0b0b0" stroke-width="1.25"/><text x="323" y="261.20" class="rg">[0 - 5]</text><text x="325.0" y="267.70" class="tn">SOX2</text><ellipse cx="348.60" cy="268.60" rx="1.00" ry="1.00" fill="#2aa018"/><ellipse cx="353.20" cy="268.60" rx="1.00" ry="1.00" fill="#2aa018"/><ellipse cx="358.30" cy="268.60" rx="1.00" ry="1.00" fill="#2aa018"/><path d="M362.00,269.50 L363.00,266.00 L363.80,266.00 L364.80,269.50Z" fill="#2aa018"/><path d="M393.00,269.50 L393.86,265.70 L394.54,265.70 L395.40,269.50Z" fill="#2aa018"/><ellipse cx="404.50" cy="268.70" rx="1.00" ry="0.90" fill="#2aa018"/><path d="M412.50,269.50 L413.21,267.40 L413.79,267.40 L414.50,269.50Z" fill="#2aa018"/><path d="M415.50,269.50 L416.50,264.60 L417.30,264.60 L418.30,269.50Z" fill="#2aa018"/><path d="M422.80,269.50 L423.66,265.80 L424.34,265.80 L425.20,269.50Z" fill="#2aa018"/><path d="M428.25,269.50 L429.50,265.70 L430.50,265.70 L431.75,269.50Z" fill="#2aa018"/><rect x="356.00" y="271.55" width="44.00" height="1.90" fill="#1a10c8"/><rect x="397.40" y="270.40" width="6.20" height="4.20" fill="#1a10c8"/><line x1="403.6" y1="272.5" x2="424.5" y2="272.5" stroke="#6a6af0" stroke-width="0.7" stroke-dasharray="1.6,0.8"/><path d="M409.58,271.80 L410.28,272.50 L409.58,273.20" stroke="#3a36e0" stroke-width="0.55" fill="none"/><path d="M416.58,271.80 L417.28,272.50 L416.58,273.20" stroke="#3a36e0" stroke-width="0.55" fill="none"/><rect x="424.20" y="271.30" width="1.20" height="2.40" fill="#1a10c8"/><path d="M425,270.4 L428.6,272.5 L425,274.6Z" fill="#1a10c8"/><text x="385.3" y="283.7" class="gn">Btg2</text>
<text x="326" y="299.97" class="hd" style="font-size:4.65px" textLength="67.5" lengthAdjust="spacingAndGlyphs">chr 2: 91, 455, 566-91, 476, 267</text><rect x="404.4" y="303.4" width="2.400000000000034" height="52.60000000000002" fill="#b8b8ee" opacity="0.68"/><line x1="321.8" y1="315.9" x2="461.0" y2="315.9" stroke="#b0b0b0" stroke-width="1.25"/><text x="323" y="307.90" class="rg">[0 - 10]</text><text x="326.6" y="314.40" class="tn">JUN</text><ellipse cx="325.00" cy="315.60" rx="1.00" ry="0.70" fill="#f0a030"/><ellipse cx="329.40" cy="315.60" rx="1.00" ry="0.70" fill="#f0a030"/><ellipse cx="333.60" cy="315.60" rx="1.00" ry="0.70" fill="#f0a030"/><path d="M346.20,316.20 L346.91,311.90 L347.49,311.90 L348.20,316.20Z" fill="#f0a030"/><ellipse cx="350.30" cy="315.60" rx="1.00" ry="0.70" fill="#f0a030"/><ellipse cx="357.10" cy="315.65" rx="1.00" ry="0.65" fill="#f0a030"/><ellipse cx="363.90" cy="315.65" rx="1.00" ry="0.65" fill="#f0a030"/><ellipse cx="371.90" cy="315.65" rx="1.00" ry="0.65" fill="#f0a030"/><ellipse cx="384.70" cy="315.65" rx="1.00" ry="0.65" fill="#f0a030"/><ellipse cx="391.60" cy="315.65" rx="1.00" ry="0.65" fill="#f0a030"/><ellipse cx="405.00" cy="315.35" rx="1.25" ry="0.95" fill="#f0a030"/><ellipse cx="419.00" cy="315.60" rx="1.00" ry="0.70" fill="#f0a030"/><path d="M421.70,316.20 L422.77,312.90 L423.63,312.90 L424.70,316.20Z" fill="#f0a030"/><ellipse cx="430.90" cy="315.60" rx="1.00" ry="0.70" fill="#f0a030"/><ellipse cx="453.00" cy="315.65" rx="1.00" ry="0.65" fill="#f0a030"/><line x1="321.8" y1="328.7" x2="461.0" y2="328.7" stroke="#b0b0b0" stroke-width="1.25"/><text x="323" y="320.70" class="rg">[0 - 10]</text><text x="325.0" y="327.20" class="tn">SOX2</text><ellipse cx="325.00" cy="328.40" rx="1.00" ry="0.70" fill="#2aa018"/><ellipse cx="338.70" cy="328.45" rx="0.75" ry="0.65" fill="#2aa018"/><ellipse cx="343.80" cy="328.45" rx="0.75" ry="0.65" fill="#2aa018"/><path d="M346.30,329.00 L346.94,326.20 L347.46,326.20 L348.10,329.00Z" fill="#2aa018"/><ellipse cx="355.70" cy="328.45" rx="0.75" ry="0.65" fill="#2aa018"/><ellipse cx="361.70" cy="328.45" rx="0.75" ry="0.65" fill="#2aa018"/><ellipse cx="379.60" cy="328.45" rx="0.75" ry="0.65" fill="#2aa018"/><ellipse cx="385.50" cy="328.45" rx="0.75" ry="0.65" fill="#2aa018"/><ellipse cx="394.20" cy="328.45" rx="0.75" ry="0.65" fill="#2aa018"/><ellipse cx="406.20" cy="328.30" rx="1.25" ry="0.80" fill="#2aa018"/><ellipse cx="419.00" cy="328.40" rx="0.75" ry="0.70" fill="#2aa018"/><ellipse cx="423.20" cy="327.90" rx="1.25" ry="1.20" fill="#2aa018"/><ellipse cx="425.70" cy="328.40" rx="0.75" ry="0.70" fill="#2aa018"/><ellipse cx="453.00" cy="328.45" rx="0.75" ry="0.65" fill="#2aa018"/><ellipse cx="459.80" cy="327.90" rx="1.25" ry="1.20" fill="#2aa018"/><line x1="321.8" y1="341.6" x2="461.0" y2="341.6" stroke="#b0b0b0" stroke-width="1.25"/><text x="323" y="333.60" class="rg">[0 - 5]</text><text x="326.8" y="340.10" class="tn">FOS</text><ellipse cx="325.00" cy="340.80" rx="1.10" ry="1.20" fill="#a01aa8"/><ellipse cx="377.90" cy="340.80" rx="1.10" ry="1.20" fill="#a01aa8"/><path d="M404.40,341.90 L405.33,334.60 L406.07,334.60 L407.00,341.90Z" fill="#a01aa8"/><path d="M409.25,341.90 L409.79,340.10 L410.21,340.10 L410.75,341.90Z" fill="#a01aa8"/><path d="M419.05,341.90 L419.59,340.10 L420.01,340.10 L420.55,341.90Z" fill="#a01aa8"/><path d="M421.90,341.90 L422.83,337.10 L423.57,337.10 L424.50,341.90Z" fill="#a01aa8"/><path d="M428.10,341.90 L428.81,339.80 L429.39,339.80 L430.10,341.90Z" fill="#a01aa8"/><path d="M430.00,341.90 L430.64,338.60 L431.16,338.60 L431.80,341.90Z" fill="#a01aa8"/><ellipse cx="452.10" cy="340.90" rx="1.40" ry="1.10" fill="#a01aa8"/><line x1="321.8" y1="354.6" x2="461.0" y2="354.6" stroke="#b0b0b0" stroke-width="1.25"/><text x="323" y="346.60" class="rg">[0 - 5]</text><text x="325.0" y="353.10" class="tn">SOX2</text><ellipse cx="325.00" cy="354.20" rx="1.00" ry="0.80" fill="#2aa018"/><ellipse cx="346.30" cy="354.00" rx="1.50" ry="1.00" fill="#2aa018"/><ellipse cx="350.60" cy="354.10" rx="1.00" ry="0.90" fill="#2aa018"/><ellipse cx="369.90" cy="354.20" rx="1.00" ry="0.80" fill="#2aa018"/><ellipse cx="374.80" cy="354.10" rx="1.00" ry="0.90" fill="#2aa018"/><ellipse cx="395.00" cy="354.15" rx="1.00" ry="0.85" fill="#2aa018"/><ellipse cx="400.20" cy="354.15" rx="1.00" ry="0.85" fill="#2aa018"/><path d="M404.40,354.90 L405.33,344.10 L406.07,344.10 L407.00,354.90Z" fill="#2aa018"/><path d="M406.50,354.90 L407.00,351.10 L407.40,351.10 L407.90,354.90Z" fill="#2aa018"/><path d="M417.35,354.90 L417.89,353.10 L418.31,353.10 L418.85,354.90Z" fill="#2aa018"/><path d="M422.15,354.90 L422.69,344.60 L423.11,344.60 L423.65,354.90Z" fill="#2aa018"/><ellipse cx="452.60" cy="354.05" rx="1.00" ry="0.95" fill="#2aa018"/><line x1="335.5" y1="358.8" x2="461" y2="358.8" stroke="#3a36e0" stroke-width="0.85"/><path d="M334.6,358.8 L337.2,357.1 L337.2,360.5Z" fill="#1a10c8"/><path d="M341.04,357.90 L340.14,358.80 L341.04,359.70" stroke="#3a36e0" stroke-width="0.55" fill="none"/><path d="M350.64,357.90 L349.74,358.80 L350.64,359.70" stroke="#3a36e0" stroke-width="0.55" fill="none"/><path d="M361.14,357.90 L360.24,358.80 L361.14,359.70" stroke="#3a36e0" stroke-width="0.55" fill="none"/><path d="M369.84,357.90 L368.94,358.80 L369.84,359.70" stroke="#3a36e0" stroke-width="0.55" fill="none"/><path d="M379.34,357.90 L378.44,358.80 L379.34,359.70" stroke="#3a36e0" stroke-width="0.55" fill="none"/><path d="M388.94,357.90 L388.04,358.80 L388.94,359.70" stroke="#3a36e0" stroke-width="0.55" fill="none"/><path d="M398.54,357.90 L397.64,358.80 L398.54,359.70" stroke="#3a36e0" stroke-width="0.55" fill="none"/><path d="M408.14,357.90 L407.24,358.80 L408.14,359.70" stroke="#3a36e0" stroke-width="0.55" fill="none"/><path d="M416.74,357.90 L415.84,358.80 L416.74,359.70" stroke="#3a36e0" stroke-width="0.55" fill="none"/><path d="M433.94,357.90 L433.04,358.80 L433.94,359.70" stroke="#3a36e0" stroke-width="0.55" fill="none"/><path d="M438.54,357.90 L437.64,358.80 L438.54,359.70" stroke="#3a36e0" stroke-width="0.55" fill="none"/><rect x="427.35" y="356.55" width="1.50" height="4.50" fill="#1a10c8"/><rect x="441.35" y="356.60" width="1.70" height="4.40" fill="#1a10c8"/><rect x="443.75" y="356.60" width="1.70" height="4.40" fill="#1a10c8"/><rect x="446.35" y="356.60" width="1.70" height="4.40" fill="#1a10c8"/><rect x="449.55" y="356.60" width="1.70" height="4.40" fill="#1a10c8"/><rect x="452.45" y="356.60" width="1.70" height="4.40" fill="#1a10c8"/><rect x="455.15" y="356.60" width="1.70" height="4.40" fill="#1a10c8"/><text x="391.3" y="370.2" class="gn">Lrp4</text>
<text x="325.0" y="385.81" class="hd" style="font-size:4.75px" textLength="72.5" lengthAdjust="spacingAndGlyphs">chr 5: 147, 186, 696- 147, 192, 947</text><rect x="360.6" y="391.2" width="8.199999999999989" height="51.400000000000034" fill="#b8b8ee" opacity="0.68"/><line x1="321.8" y1="403.9" x2="461.0" y2="403.9" stroke="#b0b0b0" stroke-width="1.25"/><text x="323" y="395.90" class="rg">[0 - 5]</text><text x="325.1" y="402.40" class="tn">JUN</text><ellipse cx="325.60" cy="403.35" rx="1.00" ry="0.95" fill="#f0a030"/><ellipse cx="353.50" cy="403.30" rx="1.20" ry="1.00" fill="#f0a030"/><path d="M360.20,404.20 L361.13,400.90 L361.87,400.90 L362.80,404.20Z" fill="#f0a030"/><path d="M362.50,404.20 L363.21,402.40 L363.79,402.40 L364.50,404.20Z" fill="#f0a030"/><path d="M364.30,404.20 L365.73,395.40 L366.87,395.40 L368.30,404.20Z" fill="#f0a030"/><path d="M366.30,404.20 L367.37,399.90 L368.23,399.90 L369.30,404.20Z" fill="#f0a030"/><ellipse cx="374.20" cy="403.30" rx="1.20" ry="1.00" fill="#f0a030"/><ellipse cx="378.90" cy="403.30" rx="1.20" ry="1.00" fill="#f0a030"/><ellipse cx="386.00" cy="403.30" rx="1.20" ry="1.00" fill="#f0a030"/><ellipse cx="414.00" cy="403.45" rx="1.00" ry="0.85" fill="#f0a030"/><ellipse cx="432.80" cy="403.35" rx="1.20" ry="0.95" fill="#f0a030"/><line x1="321.8" y1="416.5" x2="461.0" y2="416.5" stroke="#b0b0b0" stroke-width="1.25"/><text x="323" y="408.50" class="rg">[0 - 5]</text><text x="323.5" y="415.00" class="tn">SOX2</text><ellipse cx="326.40" cy="416.20" rx="1.00" ry="0.70" fill="#2aa018"/><ellipse cx="357.00" cy="415.90" rx="1.40" ry="1.00" fill="#2aa018"/><path d="M362.50,416.80 L364.43,410.50 L365.97,410.50 L367.90,416.80Z" fill="#2aa018"/><ellipse cx="426.60" cy="416.05" rx="1.00" ry="0.85" fill="#2aa018"/><line x1="321.8" y1="429.7" x2="461.0" y2="429.7" stroke="#b0b0b0" stroke-width="1.25"/><text x="323" y="421.70" class="rg">[0 - 5]</text><text x="325.3" y="428.20" class="tn">FOS</text><path d="M360.30,430.00 L361.44,425.90 L362.36,425.90 L363.50,430.00Z" fill="#a01aa8"/><path d="M365.00,430.00 L366.14,425.90 L367.06,425.90 L368.20,430.00Z" fill="#a01aa8"/><line x1="321.8" y1="442.6" x2="461.0" y2="442.6" stroke="#b0b0b0" stroke-width="1.25"/><text x="323" y="434.60" class="rg">[0 - 5]</text><text x="323.5" y="441.10" class="tn">SOX2</text><path d="M360.90,442.90 L361.70,432.10 L367.50,432.10 L368.30,442.90Z" fill="#2aa018"/><ellipse cx="432.30" cy="442.05" rx="1.30" ry="0.95" fill="#2aa018"/><ellipse cx="439.50" cy="442.05" rx="1.30" ry="0.95" fill="#2aa018"/><rect x="460.10" y="441.60" width="0.80" height="1.30" fill="#2aa018"/><rect x="367.20" y="445.25" width="50.40" height="1.70" fill="#1a10c8"/><rect x="371.60" y="444.15" width="8.60" height="3.90" fill="#1a10c8"/><rect x="391.70" y="444.15" width="8.00" height="3.90" fill="#1a10c8"/><line x1="380.2" y1="446.1" x2="391.7" y2="446.1" stroke="#ffffff" stroke-width="1.8"/><line x1="380.2" y1="446.1" x2="391.7" y2="446.1" stroke="#6a6af0" stroke-width="0.6" stroke-dasharray="1.4,0.8"/><text x="383.7" y="457.6" class="gn">Gsx1</text>
<text x="327.1" y="471.39" class="hd" style="font-size:4.7px" textLength="73.0" lengthAdjust="spacingAndGlyphs">chr 9: 103, 478, 401- 103, 776, 326</text><rect x="359.8" y="476" width="0.6999999999999886" height="52" fill="#b8b8ee" opacity="0.54"/><rect x="405.9" y="476" width="0.7000000000000455" height="52" fill="#b8b8ee" opacity="0.54"/><line x1="321.8" y1="489.3" x2="461.0" y2="489.3" stroke="#b0b0b0" stroke-width="1.25"/><text x="323" y="481.30" class="rg">[0 - 5]</text><text x="325.1" y="487.80" class="tn">JUN</text><rect x="323.50" y="487.35" width="1.78" height="2.25" fill="#f0a030"/><rect x="325.90" y="486.14" width="2.13" height="3.46" fill="#f0a030"/><rect x="328.64" y="487.50" width="2.99" height="2.10" fill="#f0a030"/><rect x="331.93" y="487.84" width="1.63" height="1.76" fill="#f0a030"/><rect x="334.16" y="486.65" width="1.47" height="2.95" fill="#f0a030"/><rect x="336.15" y="486.73" width="2.23" height="2.87" fill="#f0a030"/><rect x="338.84" y="487.82" width="1.34" height="1.78" fill="#f0a030"/><rect x="340.61" y="487.33" width="1.75" height="2.27" fill="#f0a030"/><rect x="343.09" y="486.13" width="1.38" height="3.47" fill="#f0a030"/><rect x="344.63" y="486.62" width="2.93" height="2.98" fill="#f0a030"/><rect x="347.65" y="487.14" width="1.80" height="2.46" fill="#f0a030"/><rect x="350.08" y="486.79" width="2.52" height="2.81" fill="#f0a030"/><rect x="352.68" y="487.25" width="1.48" height="2.35" fill="#f0a030"/><rect x="354.59" y="486.81" width="3.26" height="2.79" fill="#f0a030"/><rect x="358.50" y="485.99" width="1.47" height="3.61" fill="#f0a030"/><rect x="360.69" y="487.12" width="2.22" height="2.48" fill="#f0a030"/><rect x="363.26" y="486.22" width="3.28" height="3.38" fill="#f0a030"/><rect x="366.70" y="487.77" width="2.32" height="1.83" fill="#f0a030"/><rect x="371.26" y="486.46" width="2.37" height="3.14" fill="#f0a030"/><rect x="373.79" y="487.05" width="1.25" height="2.55" fill="#f0a030"/><rect x="375.42" y="486.78" width="2.58" height="2.82" fill="#f0a030"/><rect x="378.00" y="486.15" width="1.84" height="3.45" fill="#f0a030"/><rect x="379.85" y="487.21" width="2.69" height="2.39" fill="#f0a030"/><rect x="383.21" y="486.80" width="1.74" height="2.80" fill="#f0a030"/><rect x="385.45" y="487.35" width="1.47" height="2.25" fill="#f0a030"/><rect x="387.51" y="486.93" width="1.23" height="2.67" fill="#f0a030"/><rect x="388.89" y="486.85" width="1.80" height="2.75" fill="#f0a030"/><rect x="390.78" y="486.84" width="1.42" height="2.76" fill="#f0a030"/><rect x="392.74" y="486.79" width="1.33" height="2.81" fill="#f0a030"/><rect x="394.71" y="486.77" width="1.63" height="2.83" fill="#f0a030"/><rect x="397.03" y="486.78" width="2.06" height="2.82" fill="#f0a030"/><rect x="399.11" y="486.38" width="1.50" height="3.22" fill="#f0a030"/><rect x="400.95" y="486.73" width="2.57" height="2.87" fill="#f0a030"/><rect x="403.95" y="487.02" width="1.21" height="2.58" fill="#f0a030"/><rect x="405.70" y="487.74" width="2.07" height="1.86" fill="#f0a030"/><rect x="408.20" y="487.53" width="2.60" height="2.07" fill="#f0a030"/><rect x="410.83" y="486.73" width="1.43" height="2.87" fill="#f0a030"/><rect x="412.33" y="486.29" width="2.78" height="3.31" fill="#f0a030"/><rect x="415.28" y="486.49" width="3.14" height="3.11" fill="#f0a030"/><rect x="421.92" y="486.58" width="2.42" height="3.02" fill="#f0a030"/><rect x="424.86" y="487.39" width="2.92" height="2.21" fill="#f0a030"/><rect x="428.38" y="487.78" width="2.43" height="1.82" fill="#f0a030"/><rect x="430.93" y="486.86" width="1.38" height="2.74" fill="#f0a030"/><rect x="432.85" y="486.79" width="2.23" height="2.81" fill="#f0a030"/><rect x="435.14" y="487.46" width="2.18" height="2.14" fill="#f0a030"/><rect x="437.48" y="487.74" width="3.19" height="1.86" fill="#f0a030"/><rect x="443.28" y="486.95" width="2.55" height="2.65" fill="#f0a030"/><rect x="446.13" y="487.51" width="1.55" height="2.09" fill="#f0a030"/><rect x="453.93" y="487.19" width="2.81" height="2.41" fill="#f0a030"/><rect x="457.50" y="487.04" width="2.27" height="2.56" fill="#f0a030"/><rect x="460.46" y="487.26" width="0.04" height="2.34" fill="#f0a030"/><rect x="323.60" y="487.66" width="0.93" height="1.64" fill="#f0a030"/><rect x="330.00" y="487.65" width="0.83" height="1.65" fill="#f0a030"/><rect x="331.60" y="487.47" width="0.66" height="1.83" fill="#f0a030"/><rect x="341.20" y="487.47" width="0.74" height="1.83" fill="#f0a030"/><rect x="342.00" y="488.53" width="0.64" height="0.77" fill="#f0a030"/><rect x="343.60" y="488.61" width="0.63" height="0.69" fill="#f0a030"/><rect x="346.80" y="487.88" width="0.90" height="1.42" fill="#f0a030"/><rect x="349.20" y="486.85" width="0.74" height="2.45" fill="#f0a030"/><rect x="353.20" y="488.70" width="0.56" height="0.60" fill="#f0a030"/><rect x="359.60" y="487.66" width="0.50" height="1.64" fill="#f0a030"/><rect x="365.20" y="488.46" width="0.95" height="0.84" fill="#f0a030"/><rect x="369.20" y="488.70" width="0.57" height="0.60" fill="#f0a030"/><rect x="375.60" y="488.30" width="0.84" height="1.00" fill="#f0a030"/><rect x="387.60" y="488.00" width="0.71" height="1.30" fill="#f0a030"/><rect x="388.40" y="488.70" width="0.56" height="0.60" fill="#f0a030"/><rect x="397.20" y="488.52" width="0.63" height="0.78" fill="#f0a030"/><rect x="402.00" y="488.55" width="0.63" height="0.75" fill="#f0a030"/><rect x="418.00" y="487.33" width="0.93" height="1.97" fill="#f0a030"/><rect x="421.20" y="488.40" width="0.89" height="0.90" fill="#f0a030"/><rect x="437.20" y="487.34" width="0.67" height="1.96" fill="#f0a030"/><rect x="439.60" y="488.70" width="0.81" height="0.60" fill="#f0a030"/><rect x="446.80" y="488.69" width="0.92" height="0.61" fill="#f0a030"/><rect x="447.60" y="488.07" width="0.80" height="1.23" fill="#f0a030"/><rect x="448.40" y="488.31" width="0.85" height="0.99" fill="#f0a030"/><rect x="450.00" y="488.32" width="0.60" height="0.98" fill="#f0a030"/><rect x="455.60" y="488.36" width="0.73" height="0.94" fill="#f0a030"/><path d="M422.70,489.60 L423.13,485.30 L423.47,485.30 L423.90,489.60Z" fill="#f0a030"/><line x1="321.8" y1="502.2" x2="461.0" y2="502.2" stroke="#b0b0b0" stroke-width="1.25"/><text x="323" y="494.20" class="rg">[0 - 5]</text><text x="323.5" y="500.70" class="tn">SOX2</text><rect x="322.80" y="500.45" width="1.99" height="2.05" fill="#2aa018"/><rect x="327.00" y="500.99" width="1.72" height="1.51" fill="#2aa018"/><rect x="331.58" y="500.87" width="2.27" height="1.63" fill="#2aa018"/><rect x="333.95" y="501.03" width="2.46" height="1.47" fill="#2aa018"/><rect x="341.85" y="500.90" width="2.43" height="1.60" fill="#2aa018"/><rect x="344.37" y="501.34" width="1.12" height="1.16" fill="#2aa018"/><rect x="348.75" y="501.29" width="1.22" height="1.21" fill="#2aa018"/><rect x="352.39" y="500.91" width="1.98" height="1.59" fill="#2aa018"/><rect x="354.45" y="500.59" width="1.79" height="1.91" fill="#2aa018"/><rect x="356.70" y="500.29" width="2.26" height="2.21" fill="#2aa018"/><rect x="359.21" y="500.34" width="1.41" height="2.16" fill="#2aa018"/><rect x="363.85" y="500.38" width="1.93" height="2.12" fill="#2aa018"/><rect x="366.28" y="500.68" width="2.61" height="1.82" fill="#2aa018"/><rect x="369.41" y="500.42" width="1.48" height="2.08" fill="#2aa018"/><rect x="371.29" y="501.07" width="1.82" height="1.43" fill="#2aa018"/><rect x="373.28" y="501.20" width="1.21" height="1.30" fill="#2aa018"/><rect x="375.12" y="501.26" width="2.91" height="1.24" fill="#2aa018"/><rect x="378.45" y="501.22" width="1.31" height="1.28" fill="#2aa018"/><rect x="380.11" y="501.10" width="1.15" height="1.40" fill="#2aa018"/><rect x="381.59" y="500.48" width="2.86" height="2.02" fill="#2aa018"/><rect x="384.96" y="501.29" width="2.06" height="1.21" fill="#2aa018"/><rect x="387.11" y="500.32" width="2.03" height="2.18" fill="#2aa018"/><rect x="390.97" y="500.86" width="1.11" height="1.64" fill="#2aa018"/><rect x="395.59" y="501.04" width="2.88" height="1.46" fill="#2aa018"/><rect x="407.35" y="501.23" width="2.89" height="1.27" fill="#2aa018"/><rect x="410.59" y="501.06" width="2.56" height="1.44" fill="#2aa018"/><rect x="415.14" y="501.05" width="2.23" height="1.45" fill="#2aa018"/><rect x="417.51" y="501.04" width="2.64" height="1.46" fill="#2aa018"/><rect x="420.57" y="500.85" width="2.54" height="1.65" fill="#2aa018"/><rect x="423.21" y="500.43" width="2.54" height="2.07" fill="#2aa018"/><rect x="426.14" y="501.05" width="2.03" height="1.45" fill="#2aa018"/><rect x="428.49" y="500.69" width="1.34" height="1.81" fill="#2aa018"/><rect x="432.45" y="500.80" width="2.55" height="1.70" fill="#2aa018"/><rect x="435.13" y="500.87" width="2.64" height="1.63" fill="#2aa018"/><rect x="438.19" y="500.34" width="2.02" height="2.16" fill="#2aa018"/><rect x="440.25" y="501.20" width="1.07" height="1.30" fill="#2aa018"/><rect x="441.58" y="500.27" width="2.23" height="2.23" fill="#2aa018"/><rect x="447.31" y="500.31" width="2.61" height="2.19" fill="#2aa018"/><rect x="452.19" y="500.47" width="1.18" height="2.03" fill="#2aa018"/><rect x="453.49" y="500.45" width="2.27" height="2.05" fill="#2aa018"/><rect x="458.80" y="500.24" width="1.47" height="2.26" fill="#2aa018"/><rect x="324.40" y="500.08" width="0.97" height="2.12" fill="#2aa018"/><rect x="326.80" y="500.71" width="0.85" height="1.49" fill="#2aa018"/><rect x="329.20" y="501.60" width="0.55" height="0.60" fill="#2aa018"/><rect x="330.80" y="501.47" width="0.60" height="0.73" fill="#2aa018"/><rect x="333.20" y="501.03" width="0.58" height="1.17" fill="#2aa018"/><rect x="334.80" y="501.47" width="0.79" height="0.73" fill="#2aa018"/><rect x="337.20" y="500.78" width="0.87" height="1.42" fill="#2aa018"/><rect x="342.80" y="500.06" width="0.74" height="2.14" fill="#2aa018"/><rect x="345.20" y="499.83" width="0.57" height="2.37" fill="#2aa018"/><rect x="350.00" y="501.26" width="0.66" height="0.94" fill="#2aa018"/><rect x="356.40" y="501.59" width="0.76" height="0.61" fill="#2aa018"/><rect x="357.20" y="501.31" width="0.76" height="0.89" fill="#2aa018"/><rect x="360.40" y="500.88" width="0.74" height="1.32" fill="#2aa018"/><rect x="365.20" y="500.85" width="0.63" height="1.35" fill="#2aa018"/><rect x="366.80" y="501.59" width="0.72" height="0.61" fill="#2aa018"/><rect x="370.80" y="500.60" width="0.54" height="1.60" fill="#2aa018"/><rect x="382.80" y="500.13" width="0.73" height="2.07" fill="#2aa018"/><rect x="385.20" y="501.57" width="1.00" height="0.63" fill="#2aa018"/><rect x="386.80" y="501.05" width="0.98" height="1.15" fill="#2aa018"/><rect x="387.60" y="499.71" width="1.00" height="2.49" fill="#2aa018"/><rect x="388.40" y="501.50" width="0.57" height="0.70" fill="#2aa018"/><rect x="389.20" y="501.60" width="0.61" height="0.60" fill="#2aa018"/><rect x="393.20" y="500.27" width="0.63" height="1.93" fill="#2aa018"/><rect x="394.80" y="501.45" width="0.57" height="0.75" fill="#2aa018"/><rect x="397.20" y="500.08" width="0.67" height="2.12" fill="#2aa018"/><rect x="398.80" y="501.60" width="0.99" height="0.60" fill="#2aa018"/><rect x="400.40" y="499.70" width="0.71" height="2.50" fill="#2aa018"/><rect x="401.20" y="500.70" width="0.67" height="1.50" fill="#2aa018"/><rect x="408.40" y="501.59" width="0.76" height="0.61" fill="#2aa018"/><rect x="414.80" y="501.56" width="0.60" height="0.64" fill="#2aa018"/><rect x="416.40" y="499.42" width="0.62" height="2.78" fill="#2aa018"/><rect x="418.00" y="499.51" width="0.54" height="2.69" fill="#2aa018"/><rect x="418.80" y="500.55" width="0.74" height="1.65" fill="#2aa018"/><rect x="422.00" y="500.92" width="0.60" height="1.28" fill="#2aa018"/><rect x="426.00" y="501.51" width="0.87" height="0.69" fill="#2aa018"/><rect x="427.60" y="501.57" width="0.86" height="0.63" fill="#2aa018"/><rect x="428.40" y="499.65" width="0.76" height="2.55" fill="#2aa018"/><rect x="429.20" y="501.38" width="0.81" height="0.82" fill="#2aa018"/><rect x="434.80" y="501.01" width="0.79" height="1.19" fill="#2aa018"/><rect x="437.20" y="501.53" width="0.98" height="0.67" fill="#2aa018"/><rect x="439.60" y="501.60" width="0.93" height="0.60" fill="#2aa018"/><rect x="442.00" y="500.79" width="0.92" height="1.41" fill="#2aa018"/><rect x="446.80" y="501.28" width="0.66" height="0.92" fill="#2aa018"/><rect x="449.20" y="500.72" width="0.73" height="1.48" fill="#2aa018"/><rect x="458.80" y="501.58" width="0.91" height="0.62" fill="#2aa018"/><path d="M338.60,502.50 L339.03,495.20 L339.37,495.20 L339.80,502.50Z" fill="#2aa018"/><path d="M342.90,502.50 L343.26,499.20 L343.54,499.20 L343.90,502.50Z" fill="#2aa018"/><path d="M358.70,502.50 L359.13,496.20 L359.47,496.20 L359.90,502.50Z" fill="#2aa018"/><path d="M362.20,502.50 L362.63,492.70 L362.97,492.70 L363.40,502.50Z" fill="#2aa018"/><path d="M406.00,502.50 L406.43,499.20 L406.77,499.20 L407.20,502.50Z" fill="#2aa018"/><line x1="321.8" y1="515.4" x2="461.0" y2="515.4" stroke="#b0b0b0" stroke-width="1.25"/><text x="323" y="507.40" class="rg">[0 - 5]</text><text x="325.3" y="513.90" class="tn">FOS</text><rect x="322.80" y="513.20" width="2.86" height="2.50" fill="#a01aa8"/><rect x="328.00" y="513.21" width="2.02" height="2.49" fill="#a01aa8"/><rect x="330.71" y="513.84" width="1.34" height="1.86" fill="#a01aa8"/><rect x="332.41" y="513.68" width="2.55" height="2.02" fill="#a01aa8"/><rect x="335.08" y="513.74" width="1.43" height="1.96" fill="#a01aa8"/><rect x="339.34" y="513.23" width="1.69" height="2.47" fill="#a01aa8"/><rect x="341.24" y="513.56" width="1.58" height="2.14" fill="#a01aa8"/><rect x="344.77" y="514.12" width="2.16" height="1.58" fill="#a01aa8"/><rect x="349.42" y="513.72" width="2.69" height="1.98" fill="#a01aa8"/><rect x="352.74" y="513.53" width="1.69" height="2.17" fill="#a01aa8"/><rect x="354.67" y="513.39" width="1.95" height="2.31" fill="#a01aa8"/><rect x="356.98" y="513.62" width="1.20" height="2.08" fill="#a01aa8"/><rect x="358.26" y="513.76" width="2.34" height="1.94" fill="#a01aa8"/><rect x="360.84" y="513.92" width="2.31" height="1.78" fill="#a01aa8"/><rect x="373.61" y="514.14" width="1.52" height="1.56" fill="#a01aa8"/><rect x="379.14" y="513.57" width="1.28" height="2.13" fill="#a01aa8"/><rect x="380.47" y="514.04" width="1.56" height="1.66" fill="#a01aa8"/><rect x="385.07" y="513.21" width="1.20" height="2.49" fill="#a01aa8"/><rect x="388.39" y="513.34" width="2.05" height="2.36" fill="#a01aa8"/><rect x="390.91" y="514.00" width="2.06" height="1.70" fill="#a01aa8"/><rect x="393.29" y="513.53" width="2.02" height="2.17" fill="#a01aa8"/><rect x="395.84" y="513.53" width="1.06" height="2.17" fill="#a01aa8"/><rect x="397.14" y="513.18" width="1.28" height="2.52" fill="#a01aa8"/><rect x="398.67" y="513.73" width="2.18" height="1.97" fill="#a01aa8"/><rect x="407.63" y="513.47" width="2.48" height="2.23" fill="#a01aa8"/><rect x="410.15" y="513.90" width="1.34" height="1.80" fill="#a01aa8"/><rect x="411.65" y="513.47" width="2.29" height="2.23" fill="#a01aa8"/><rect x="414.17" y="513.21" width="2.83" height="2.49" fill="#a01aa8"/><rect x="417.23" y="513.80" width="2.57" height="1.90" fill="#a01aa8"/><rect x="420.05" y="513.71" width="2.72" height="1.99" fill="#a01aa8"/><rect x="422.85" y="514.31" width="2.05" height="1.39" fill="#a01aa8"/><rect x="429.53" y="513.84" width="2.98" height="1.86" fill="#a01aa8"/><rect x="433.00" y="514.01" width="1.51" height="1.69" fill="#a01aa8"/><rect x="434.74" y="513.31" width="2.08" height="2.39" fill="#a01aa8"/><rect x="437.00" y="514.43" width="1.48" height="1.27" fill="#a01aa8"/><rect x="438.71" y="513.78" width="1.70" height="1.92" fill="#a01aa8"/><rect x="443.48" y="514.36" width="1.40" height="1.34" fill="#a01aa8"/><rect x="448.31" y="513.53" width="1.73" height="2.17" fill="#a01aa8"/><rect x="450.51" y="513.17" width="2.29" height="2.53" fill="#a01aa8"/><rect x="453.21" y="513.47" width="1.56" height="2.23" fill="#a01aa8"/><rect x="455.42" y="514.38" width="1.07" height="1.32" fill="#a01aa8"/><rect x="456.95" y="514.20" width="2.21" height="1.50" fill="#a01aa8"/><rect x="459.45" y="514.18" width="1.05" height="1.52" fill="#a01aa8"/><rect x="326.80" y="514.66" width="0.98" height="0.74" fill="#a01aa8"/><rect x="328.40" y="514.78" width="0.59" height="0.62" fill="#a01aa8"/><rect x="330.80" y="514.69" width="0.90" height="0.71" fill="#a01aa8"/><rect x="334.00" y="514.78" width="0.94" height="0.62" fill="#a01aa8"/><rect x="335.60" y="513.82" width="0.97" height="1.58" fill="#a01aa8"/><rect x="342.80" y="514.66" width="0.78" height="0.74" fill="#a01aa8"/><rect x="352.40" y="513.69" width="0.76" height="1.71" fill="#a01aa8"/><rect x="353.20" y="514.21" width="0.81" height="1.19" fill="#a01aa8"/><rect x="356.40" y="513.52" width="0.83" height="1.88" fill="#a01aa8"/><rect x="361.20" y="514.63" width="0.89" height="0.77" fill="#a01aa8"/><rect x="365.20" y="514.66" width="0.53" height="0.74" fill="#a01aa8"/><rect x="366.00" y="514.55" width="0.97" height="0.85" fill="#a01aa8"/><rect x="370.00" y="514.80" width="0.86" height="0.60" fill="#a01aa8"/><rect x="380.40" y="514.44" width="0.75" height="0.96" fill="#a01aa8"/><rect x="386.00" y="514.67" width="0.87" height="0.73" fill="#a01aa8"/><rect x="387.60" y="514.71" width="0.99" height="0.69" fill="#a01aa8"/><rect x="389.20" y="514.06" width="0.57" height="1.34" fill="#a01aa8"/><rect x="396.40" y="514.76" width="0.93" height="0.64" fill="#a01aa8"/><rect x="400.40" y="514.80" width="0.63" height="0.60" fill="#a01aa8"/><rect x="405.20" y="513.87" width="0.72" height="1.53" fill="#a01aa8"/><rect x="407.60" y="514.35" width="0.94" height="1.05" fill="#a01aa8"/><rect x="412.40" y="514.78" width="0.64" height="0.62" fill="#a01aa8"/><rect x="415.60" y="514.67" width="0.64" height="0.73" fill="#a01aa8"/><rect x="416.40" y="513.83" width="0.89" height="1.57" fill="#a01aa8"/><rect x="422.00" y="513.46" width="0.52" height="1.94" fill="#a01aa8"/><rect x="424.40" y="514.75" width="0.71" height="0.65" fill="#a01aa8"/><rect x="434.00" y="514.35" width="0.67" height="1.05" fill="#a01aa8"/><rect x="439.60" y="514.33" width="0.54" height="1.07" fill="#a01aa8"/><rect x="453.20" y="513.71" width="0.82" height="1.69" fill="#a01aa8"/><path d="M338.40,515.70 L338.83,509.90 L339.17,509.90 L339.60,515.70Z" fill="#a01aa8"/><path d="M422.50,515.70 L422.86,512.90 L423.14,512.90 L423.50,515.70Z" fill="#a01aa8"/><line x1="321.8" y1="528.0" x2="461.0" y2="528.0" stroke="#b0b0b0" stroke-width="1.25"/><text x="323" y="520.00" class="rg">[0 - 5]</text><text x="323.5" y="526.50" class="tn">SOX2</text><rect x="322.80" y="526.14" width="2.08" height="2.16" fill="#2aa018"/><rect x="326.60" y="526.46" width="1.55" height="1.84" fill="#2aa018"/><rect x="328.80" y="526.21" width="2.44" height="2.09" fill="#2aa018"/><rect x="331.91" y="526.41" width="1.82" height="1.89" fill="#2aa018"/><rect x="338.14" y="526.68" width="1.60" height="1.62" fill="#2aa018"/><rect x="340.24" y="526.15" width="2.17" height="2.15" fill="#2aa018"/><rect x="342.43" y="526.08" width="1.85" height="2.22" fill="#2aa018"/><rect x="347.22" y="526.67" width="3.14" height="1.63" fill="#2aa018"/><rect x="350.64" y="527.08" width="1.91" height="1.22" fill="#2aa018"/><rect x="356.44" y="526.08" width="1.54" height="2.22" fill="#2aa018"/><rect x="361.45" y="526.71" width="1.19" height="1.59" fill="#2aa018"/><rect x="362.91" y="527.02" width="2.29" height="1.28" fill="#2aa018"/><rect x="368.00" y="527.12" width="1.78" height="1.18" fill="#2aa018"/><rect x="370.09" y="526.83" width="1.49" height="1.47" fill="#2aa018"/><rect x="372.19" y="526.50" width="2.22" height="1.80" fill="#2aa018"/><rect x="376.81" y="526.71" width="1.13" height="1.59" fill="#2aa018"/><rect x="378.00" y="526.05" width="3.24" height="2.25" fill="#2aa018"/><rect x="381.61" y="526.42" width="2.06" height="1.88" fill="#2aa018"/><rect x="387.60" y="527.10" width="3.13" height="1.20" fill="#2aa018"/><rect x="393.54" y="526.62" width="1.91" height="1.68" fill="#2aa018"/><rect x="396.02" y="527.00" width="2.86" height="1.30" fill="#2aa018"/><rect x="398.89" y="526.21" width="2.42" height="2.09" fill="#2aa018"/><rect x="401.64" y="526.22" width="3.21" height="2.08" fill="#2aa018"/><rect x="404.94" y="526.85" width="1.64" height="1.45" fill="#2aa018"/><rect x="406.92" y="527.13" width="2.21" height="1.17" fill="#2aa018"/><rect x="409.60" y="526.82" width="1.94" height="1.48" fill="#2aa018"/><rect x="412.17" y="526.35" width="1.57" height="1.95" fill="#2aa018"/><rect x="414.23" y="526.70" width="1.51" height="1.60" fill="#2aa018"/><rect x="415.89" y="526.51" width="2.33" height="1.79" fill="#2aa018"/><rect x="418.80" y="526.41" width="1.51" height="1.89" fill="#2aa018"/><rect x="420.77" y="526.92" width="2.68" height="1.38" fill="#2aa018"/><rect x="423.49" y="526.33" width="1.78" height="1.97" fill="#2aa018"/><rect x="425.53" y="526.84" width="2.82" height="1.46" fill="#2aa018"/><rect x="428.68" y="526.07" width="1.61" height="2.23" fill="#2aa018"/><rect x="430.64" y="526.57" width="1.54" height="1.73" fill="#2aa018"/><rect x="434.56" y="527.06" width="1.75" height="1.24" fill="#2aa018"/><rect x="437.02" y="526.44" width="1.75" height="1.86" fill="#2aa018"/><rect x="439.35" y="526.44" width="2.43" height="1.86" fill="#2aa018"/><rect x="444.10" y="526.61" width="1.47" height="1.69" fill="#2aa018"/><rect x="448.83" y="527.03" width="2.38" height="1.27" fill="#2aa018"/><rect x="454.44" y="526.55" width="1.85" height="1.75" fill="#2aa018"/><rect x="458.85" y="526.94" width="1.65" height="1.36" fill="#2aa018"/><rect x="330.00" y="526.96" width="0.65" height="1.04" fill="#2aa018"/><rect x="331.60" y="525.29" width="0.63" height="2.71" fill="#2aa018"/><rect x="334.80" y="527.37" width="0.81" height="0.63" fill="#2aa018"/><rect x="335.60" y="526.17" width="0.56" height="1.83" fill="#2aa018"/><rect x="336.40" y="526.77" width="0.59" height="1.23" fill="#2aa018"/><rect x="337.20" y="526.66" width="0.58" height="1.34" fill="#2aa018"/><rect x="345.20" y="527.40" width="0.73" height="0.60" fill="#2aa018"/><rect x="347.60" y="527.34" width="0.70" height="0.66" fill="#2aa018"/><rect x="352.40" y="526.41" width="0.63" height="1.59" fill="#2aa018"/><rect x="354.00" y="526.27" width="0.74" height="1.73" fill="#2aa018"/><rect x="356.40" y="526.27" width="0.51" height="1.73" fill="#2aa018"/><rect x="357.20" y="526.97" width="0.89" height="1.03" fill="#2aa018"/><rect x="361.20" y="527.07" width="0.56" height="0.93" fill="#2aa018"/><rect x="364.40" y="527.00" width="0.65" height="1.00" fill="#2aa018"/><rect x="367.60" y="526.22" width="0.65" height="1.78" fill="#2aa018"/><rect x="375.60" y="527.08" width="0.61" height="0.92" fill="#2aa018"/><rect x="378.00" y="527.09" width="1.00" height="0.91" fill="#2aa018"/><rect x="379.60" y="526.85" width="0.82" height="1.15" fill="#2aa018"/><rect x="384.40" y="525.40" width="0.66" height="2.60" fill="#2aa018"/><rect x="385.20" y="526.22" width="0.56" height="1.78" fill="#2aa018"/><rect x="387.60" y="525.94" width="0.95" height="2.06" fill="#2aa018"/><rect x="396.40" y="527.34" width="0.96" height="0.66" fill="#2aa018"/><rect x="399.60" y="526.65" width="0.77" height="1.35" fill="#2aa018"/><rect x="404.40" y="525.43" width="0.83" height="2.57" fill="#2aa018"/><rect x="415.60" y="527.12" width="0.98" height="0.88" fill="#2aa018"/><rect x="419.60" y="527.40" width="0.92" height="0.60" fill="#2aa018"/><rect x="423.60" y="525.71" width="0.67" height="2.29" fill="#2aa018"/><rect x="425.20" y="527.13" width="0.93" height="0.87" fill="#2aa018"/><rect x="427.60" y="526.13" width="0.60" height="1.87" fill="#2aa018"/><rect x="432.40" y="527.14" width="0.56" height="0.86" fill="#2aa018"/><rect x="433.20" y="527.18" width="0.63" height="0.82" fill="#2aa018"/><rect x="434.00" y="527.27" width="0.60" height="0.73" fill="#2aa018"/><rect x="435.60" y="527.14" width="0.79" height="0.86" fill="#2aa018"/><rect x="438.80" y="525.36" width="0.53" height="2.64" fill="#2aa018"/><rect x="442.00" y="527.21" width="0.74" height="0.79" fill="#2aa018"/><rect x="442.80" y="526.13" width="0.65" height="1.87" fill="#2aa018"/><rect x="443.60" y="527.12" width="0.78" height="0.88" fill="#2aa018"/><rect x="449.20" y="527.40" width="0.58" height="0.60" fill="#2aa018"/><rect x="453.20" y="527.07" width="0.71" height="0.93" fill="#2aa018"/><rect x="454.80" y="526.24" width="0.91" height="1.76" fill="#2aa018"/><rect x="460.40" y="526.04" width="0.58" height="1.96" fill="#2aa018"/><path d="M337.80,528.30 L338.30,520.00 L338.70,520.00 L339.20,528.30Z" fill="#2aa018"/><path d="M339.50,528.30 L339.86,522.00 L340.14,522.00 L340.50,528.30Z" fill="#2aa018"/><path d="M359.20,528.30 L359.63,519.00 L359.97,519.00 L360.40,528.30Z" fill="#2aa018"/><path d="M361.90,528.30 L362.33,519.00 L362.67,519.00 L363.10,528.30Z" fill="#2aa018"/><path d="M366.70,528.30 L367.06,523.00 L367.34,523.00 L367.70,528.30Z" fill="#2aa018"/><path d="M419.70,528.30 L420.13,522.00 L420.47,522.00 L420.90,528.30Z" fill="#2aa018"/><path d="M422.70,528.30 L423.13,521.00 L423.47,521.00 L423.90,528.30Z" fill="#2aa018"/><line x1="322.3" y1="532.0" x2="455.5" y2="532.0" stroke="#3a36e0" stroke-width="0.75"/><rect x="322.65" y="530.20" width="0.90" height="3.60" fill="#1a10c8"/><rect x="325.25" y="530.20" width="0.90" height="3.60" fill="#1a10c8"/><rect x="327.15" y="530.20" width="0.90" height="3.60" fill="#1a10c8"/><rect x="329.55" y="530.20" width="0.90" height="3.60" fill="#1a10c8"/><rect x="331.15" y="530.20" width="0.90" height="3.60" fill="#1a10c8"/><rect x="332.75" y="530.20" width="0.90" height="3.60" fill="#1a10c8"/><rect x="335.45" y="530.20" width="0.90" height="3.60" fill="#1a10c8"/><path d="M341.42,531.30 L340.72,532.00 L341.42,532.70" stroke="#3a36e0" stroke-width="0.55" fill="none"/><path d="M347.42,531.30 L346.72,532.00 L347.42,532.70" stroke="#3a36e0" stroke-width="0.55" fill="none"/><path d="M353.42,531.30 L352.72,532.00 L353.42,532.70" stroke="#3a36e0" stroke-width="0.55" fill="none"/><path d="M359.42,531.30 L358.72,532.00 L359.42,532.70" stroke="#3a36e0" stroke-width="0.55" fill="none"/><path d="M365.42,531.30 L364.72,532.00 L365.42,532.70" stroke="#3a36e0" stroke-width="0.55" fill="none"/><path d="M371.42,531.30 L370.72,532.00 L371.42,532.70" stroke="#3a36e0" stroke-width="0.55" fill="none"/><path d="M377.42,531.30 L376.72,532.00 L377.42,532.70" stroke="#3a36e0" stroke-width="0.55" fill="none"/><path d="M390.42,531.30 L389.72,532.00 L390.42,532.70" stroke="#3a36e0" stroke-width="0.55" fill="none"/><path d="M396.42,531.30 L395.72,532.00 L396.42,532.70" stroke="#3a36e0" stroke-width="0.55" fill="none"/><path d="M402.42,531.30 L401.72,532.00 L402.42,532.70" stroke="#3a36e0" stroke-width="0.55" fill="none"/><path d="M408.42,531.30 L407.72,532.00 L408.42,532.70" stroke="#3a36e0" stroke-width="0.55" fill="none"/><path d="M414.42,531.30 L413.72,532.00 L414.42,532.70" stroke="#3a36e0" stroke-width="0.55" fill="none"/><path d="M446.92,531.30 L446.22,532.00 L446.92,532.70" stroke="#3a36e0" stroke-width="0.55" fill="none"/><path d="M451.82,531.30 L451.12,532.00 L451.82,532.70" stroke="#3a36e0" stroke-width="0.55" fill="none"/><rect x="383.75" y="530.20" width="0.90" height="3.60" fill="#1a10c8"/><rect x="419.50" y="530.90" width="1.60" height="2.20" fill="#1a10c8"/><rect x="423.50" y="530.90" width="1.60" height="2.20" fill="#1a10c8"/><rect x="431.2" y="530.1" width="11.1" height="3.9" rx="1.2" fill="#1a10c8"/><rect x="454.80" y="531.10" width="0.80" height="1.80" fill="#1a10c8"/><text x="375.3" y="543.6" class="gn">Tmem108</text>
</svg>
</body></html>
